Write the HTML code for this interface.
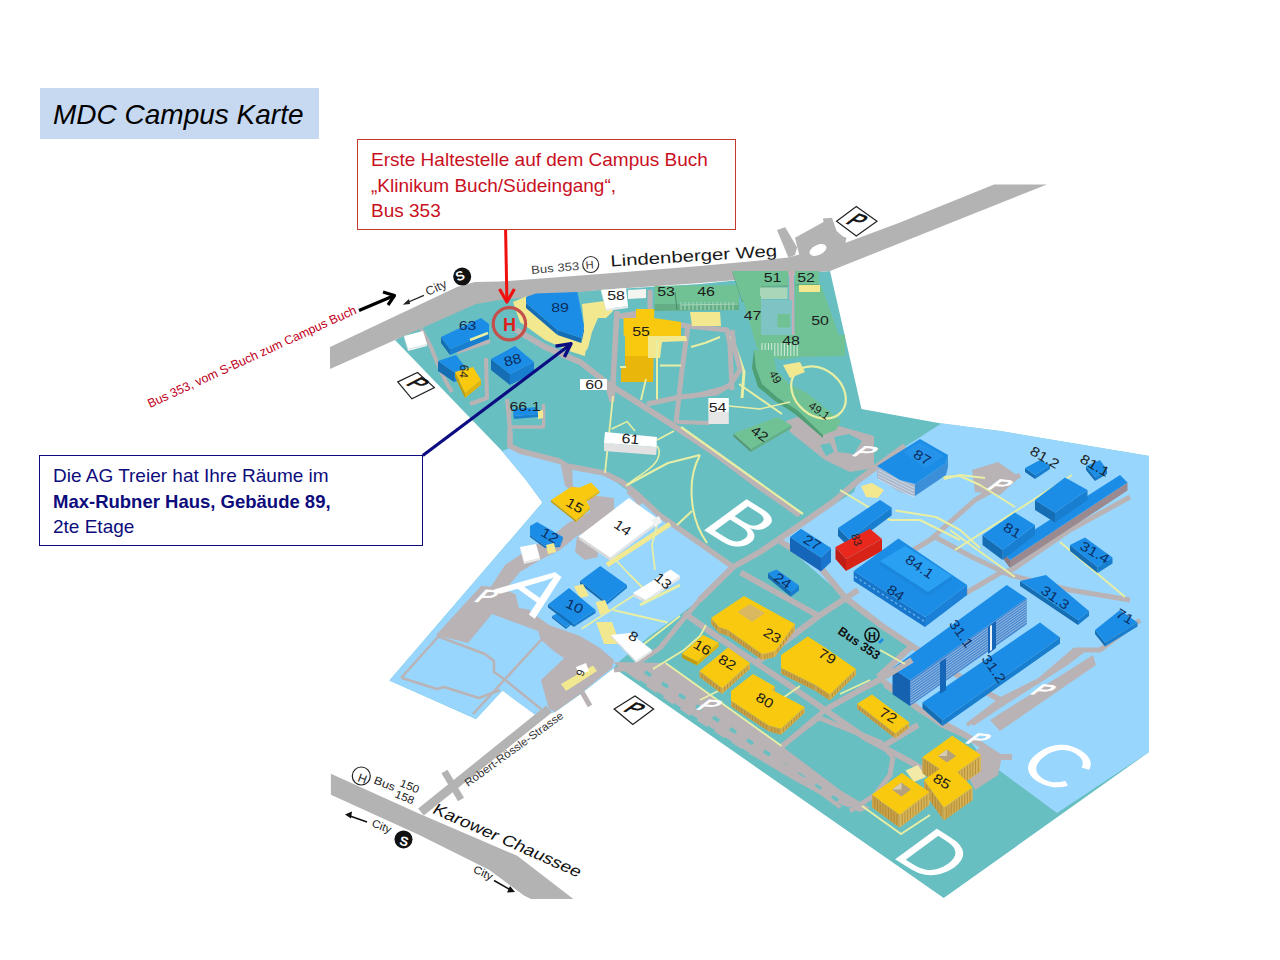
<!DOCTYPE html>
<html><head><meta charset="utf-8"><style>
html,body{margin:0;padding:0;background:#fff;}
body{width:1280px;height:960px;position:relative;overflow:hidden;font-family:"Liberation Sans",sans-serif;}
svg{position:absolute;left:0;top:0;}
svg text{font-family:"Liberation Sans",sans-serif;}
.title{position:absolute;left:40px;top:88px;width:279px;height:51px;background:#c6d9f1;}
.title span{position:absolute;left:13px;top:11px;font-style:italic;font-size:28px;color:#000;white-space:nowrap;}
.rbox{position:absolute;left:357px;top:139px;width:379px;height:91px;border:1.3px solid #c0392b;box-sizing:border-box;background:#fff;}
.rbox div{position:absolute;left:13px;font-size:19px;color:#c8101e;white-space:nowrap;}
.bbox{position:absolute;left:39px;top:455px;width:384px;height:91px;border:1.3px solid #0c0c7c;box-sizing:border-box;background:#fff;}
.bbox div{position:absolute;left:13px;font-size:19px;color:#0c0c7c;white-space:nowrap;}
</style></head><body>
<svg width="1280" height="960" viewBox="0 0 1280 960">
<polygon points="395.0,340.0 476.0,301.0 500.0,296.0 700.0,284.0 830.0,271.0 861.5,409.0 944.0,424.0 1000.0,431.0 1149.0,456.0 1149.0,752.0 943.7,898.0 614.0,668.0 580.6,694.0 555.0,712.0 537.0,716.0 502.5,690.6 476.0,719.0 389.4,680.6 542.5,502.5 526.0,480.0 502.0,451.0" fill="#68bfc1" />
<polygon points="502.0,451.0 510.0,448.0 520.0,451.0 559.0,461.0 567.0,466.0 604.0,473.0 628.0,491.0 661.0,515.0 700.0,543.0 733.0,567.0 699.0,600.0 681.0,614.0 651.0,635.0 617.5,663.0 614.0,668.0 580.6,694.0 555.0,712.0 537.0,716.0 502.5,690.6 476.0,719.0 389.4,680.6 542.5,502.5 526.0,480.0" fill="#98d6fd" />
<polygon points="941.7,423.3 903.0,448.0 860.0,476.0 853.8,492.0 801.0,525.0 780.6,541.0 845.6,598.0 882.0,626.0 912.0,646.0 878.0,677.0 920.0,710.0 965.0,735.0 985.0,760.0 996.0,768.0 1057.0,813.0 1149.0,752.0 1149.0,456.0 1000.0,431.0" fill="#98d6fd" />
<polygon points="330.0,347.0 457.0,287.0 475.0,282.0 500.0,281.5 600.0,274.0 700.0,266.0 760.0,260.6 788.0,257.4 845.0,243.0 900.0,222.4 994.0,184.5 1047.0,184.5 830.0,271.0 760.0,278.0 700.0,283.0 600.0,290.0 500.0,300.0 476.0,304.0 330.0,369.0" fill="#b3b3b3" />
<polygon points="777.0,230.0 785.2,227.3 797.2,247.5 795.0,255.0 788.4,257.4" fill="#b3b3b3" />
<polygon points="795.0,237.7 823.5,222.0 823.0,218.5 832.0,217.8 836.6,231.0 843.0,236.6 846.4,237.7 845.0,245.0 800.0,258.0" fill="#b3b3b3" />
<ellipse cx="818" cy="250" rx="9" ry="5" transform="rotate(-25 818 250)" fill="#ffffff"/>
<polygon points="836.6,221.3 856.3,206.5 877.0,221.3 856.3,236.0" fill="#ffffff" stroke="#222" stroke-width="1.2"/>
<text x="0" y="0" font-size="100" fill="#111" stroke="#111" stroke-width="4" transform="matrix(0.19,0.065,-0.184,0.144,844.7,222.9)">P</text>
<polygon points="330.9,773.7 418.8,813.6 517.2,855.8 573.4,899.0 531.0,899.0 524.0,895.6 489.0,869.8 418.8,834.7 330.9,794.8" fill="#b3b3b3" />
<polyline points="421.0,812.0 549.0,709.0" fill="none" stroke="#b3b3b3" stroke-width="9" stroke-linejoin="round" stroke-linecap="butt" />
<polyline points="444.5,771.4 461.0,799.5" fill="none" stroke="#b3b3b3" stroke-width="7" stroke-linejoin="round" stroke-linecap="butt" />
<polygon points="397.8,381.9 417.5,372.5 434.4,387.5 411.9,398.8" fill="#ffffff" stroke="#222" stroke-width="1.2"/>
<text x="0" y="0" font-size="100" fill="#111" stroke="#111" stroke-width="4" transform="matrix(0.174,0.087,-0.211,0.109,405.3,384.3)">P</text>
<polyline points="421.0,329.0 430.0,345.0 437.0,362.0 445.0,380.0 452.0,392.0" fill="none" stroke="#b9b3b6" stroke-width="4" stroke-linejoin="round" stroke-linecap="butt" />
<polyline points="457.0,352.0 490.0,341.0" fill="none" stroke="#b9b3b6" stroke-width="4" stroke-linejoin="round" stroke-linecap="butt" />
<polyline points="486.0,358.0 487.0,398.0 470.0,404.0" fill="none" stroke="#b9b3b6" stroke-width="4" stroke-linejoin="round" stroke-linecap="butt" />
<polyline points="516.0,330.0 545.0,347.0 580.0,362.0 607.0,383.0 674.0,426.0 716.0,454.0 760.0,487.0 800.0,515.0" fill="none" stroke="#b9b3b6" stroke-width="6" stroke-linejoin="round" stroke-linecap="butt" />
<polyline points="509.5,408.0 509.5,446.0" fill="none" stroke="#b9b3b6" stroke-width="3.5" stroke-linejoin="round" stroke-linecap="butt" />
<polyline points="543.5,404.0 543.5,428.0" fill="none" stroke="#b9b3b6" stroke-width="3.5" stroke-linejoin="round" stroke-linecap="butt" />
<polyline points="511.0,427.0 543.5,427.0" fill="none" stroke="#b9b3b6" stroke-width="3.5" stroke-linejoin="round" stroke-linecap="butt" />
<polygon points="538.0,411.0 543.0,410.0 543.0,418.0 538.0,419.0" fill="#f2e890" />
<polygon points="513.0,302.0 527.0,296.0 528.0,306.0 556.0,333.0 582.0,342.0 586.0,345.0 585.0,356.0 572.0,352.0 545.0,340.0 520.0,322.0" fill="#f2e890" />
<polygon points="582.0,304.0 612.0,300.0 613.0,311.0 606.0,318.0 598.0,318.0 592.0,332.0 588.0,348.0 582.0,356.0 580.0,346.0 584.0,325.0" fill="#f2e890" />
<polygon points="427.0,344.0 408.0,349.0 408.0,351.0 427.0,346.0" fill="#eeeeee" />
<polygon points="408.0,349.0 404.0,336.0 404.0,338.0 408.0,351.0" fill="#dddddd" />
<polygon points="404.0,336.0 423.0,331.0 427.0,344.0 408.0,349.0" fill="#ffffff" />
<polygon points="489.0,333.0 450.0,349.0 450.0,355.0 489.0,339.0" fill="#187ecf" />
<polygon points="450.0,349.0 441.0,337.0 441.0,343.0 450.0,355.0" fill="#156db3" />
<polygon points="441.0,337.0 481.0,318.0 489.0,324.0 489.0,333.0 450.0,349.0" fill="#1b8de6" />
<polyline points="470.0,340.0 488.0,333.0" fill="none" stroke="#e8efa4" stroke-width="2.5" stroke-linejoin="round" stroke-linecap="butt" />
<polygon points="466.0,368.0 454.0,372.0 454.0,382.0 466.0,378.0" fill="#187ecf" />
<polygon points="454.0,372.0 438.0,361.0 438.0,371.0 454.0,382.0" fill="#156db3" />
<polygon points="438.0,361.0 456.0,355.0 466.0,368.0 454.0,372.0" fill="#1b8de6" />
<polygon points="481.0,380.0 465.0,393.0 465.0,398.0 481.0,385.0" fill="#e0b40d" />
<polygon points="465.0,393.0 455.0,372.0 455.0,377.0 465.0,398.0" fill="#c29c0b" />
<polygon points="455.0,372.0 473.0,367.0 481.0,380.0 465.0,393.0" fill="#f9c90f" />
<polygon points="534.0,362.0 510.0,374.0 510.0,385.0 534.0,373.0" fill="#187ecf" />
<polygon points="510.0,374.0 491.0,359.0 491.0,370.0 510.0,385.0" fill="#156db3" />
<polygon points="491.0,359.0 515.0,346.0 534.0,362.0 510.0,374.0" fill="#1b8de6" />
<polygon points="584.0,326.0 581.4,338.0 581.4,343.0 584.0,331.0" fill="#187ecf" />
<polygon points="581.4,338.0 557.5,330.0 557.5,335.0 581.4,343.0" fill="#156db3" />
<polygon points="557.5,330.0 526.0,303.0 526.0,308.0 557.5,335.0" fill="#156db3" />
<polygon points="526.0,297.0 536.0,293.5 577.4,292.0 584.0,326.0 581.4,338.0 557.5,330.0 526.0,303.0" fill="#1b8de6" />
<polygon points="538.0,414.0 514.0,416.0 514.0,419.0 538.0,417.0" fill="#187ecf" />
<polygon points="514.0,416.0 513.0,409.0 513.0,412.0 514.0,419.0" fill="#156db3" />
<polygon points="513.0,409.0 537.0,407.0 538.0,414.0 514.0,416.0" fill="#1b8de6" />
<polyline points="617.0,311.0 612.0,400.0 607.0,383.0" fill="none" stroke="#b9b3b6" stroke-width="5.5" stroke-linejoin="round" stroke-linecap="butt" />
<polyline points="688.0,326.0 682.0,370.0 676.0,423.0" fill="none" stroke="#b9b3b6" stroke-width="5" stroke-linejoin="round" stroke-linecap="butt" />
<polyline points="650.0,290.0 650.0,311.0 620.0,316.0 688.0,326.0 727.0,330.0 730.0,345.0 732.0,390.0" fill="none" stroke="#b9b3b6" stroke-width="5" stroke-linejoin="round" stroke-linecap="butt" />
<polygon points="690.0,312.0 720.0,312.0 721.0,326.0 692.0,326.0" fill="#f2e890" />
<polygon points="628.0,306.0 606.0,309.0 606.0,311.0 628.0,308.0" fill="#e8e8e8" />
<polygon points="606.0,309.0 601.0,290.0 601.0,292.0 606.0,311.0" fill="#d8d8d8" />
<polygon points="601.0,290.0 626.0,288.0 628.0,306.0 606.0,309.0" fill="#ffffff" />
<polygon points="628.0,290.0 646.0,289.0 646.0,298.0 628.0,299.0" fill="#f4f4f0" />
<polygon points="636.0,309.0 654.5,309.0 654.0,318.0 681.0,322.0 681.0,336.0 654.0,336.0 653.0,382.0 621.0,382.0 621.0,369.0 625.0,368.0 625.0,336.0 623.6,335.0 623.6,318.0 636.0,318.0" fill="#f9c90f" />
<polygon points="625.0,356.0 653.0,356.0 653.0,382.0 621.0,382.0 621.0,369.0 625.0,368.0" fill="#e9b60c" />
<polygon points="648.0,336.0 686.0,336.0 687.0,341.0 662.0,342.0 660.0,358.0 648.0,358.0" fill="#f2e890" />
<polyline points="660.0,365.5 681.0,365.5" fill="none" stroke="#e8efa4" stroke-width="2" stroke-linejoin="round" stroke-linecap="butt" />
<polyline points="657.0,340.0 657.0,400.0" fill="none" stroke="#e8efa4" stroke-width="2" stroke-linejoin="round" stroke-linecap="butt" />
<polyline points="691.0,347.0 705.0,343.0 720.0,337.0" fill="none" stroke="#e8efa4" stroke-width="2" stroke-linejoin="round" stroke-linecap="butt" />
<polyline points="731.0,336.0 737.0,352.0 744.0,372.0 742.0,398.0" fill="none" stroke="#e8efa4" stroke-width="3" stroke-linejoin="round" stroke-linecap="butt" />
<polyline points="620.0,367.0 626.0,367.0" fill="none" stroke="#e8efa4" stroke-width="2" stroke-linejoin="round" stroke-linecap="butt" />
<polygon points="739.0,303.0 654.5,304.0 654.5,311.0 739.0,310.0" fill="#64ae86" />
<polygon points="654.5,286.0 739.0,285.0 739.0,303.0 654.5,304.0" fill="#70c295" />
<polyline points="681.0,302.0 681.0,310.0" fill="none" stroke="#a8d8bc" stroke-width="1" stroke-linejoin="round" stroke-linecap="butt" />
<polyline points="685.0,302.0 685.0,310.0" fill="none" stroke="#a8d8bc" stroke-width="1" stroke-linejoin="round" stroke-linecap="butt" />
<polyline points="689.0,302.0 689.0,310.0" fill="none" stroke="#a8d8bc" stroke-width="1" stroke-linejoin="round" stroke-linecap="butt" />
<polyline points="693.0,302.0 693.0,310.0" fill="none" stroke="#a8d8bc" stroke-width="1" stroke-linejoin="round" stroke-linecap="butt" />
<polyline points="697.0,302.0 697.0,310.0" fill="none" stroke="#a8d8bc" stroke-width="1" stroke-linejoin="round" stroke-linecap="butt" />
<polyline points="701.0,302.0 701.0,310.0" fill="none" stroke="#a8d8bc" stroke-width="1" stroke-linejoin="round" stroke-linecap="butt" />
<polyline points="705.0,302.0 705.0,310.0" fill="none" stroke="#a8d8bc" stroke-width="1" stroke-linejoin="round" stroke-linecap="butt" />
<polyline points="709.0,302.0 709.0,310.0" fill="none" stroke="#a8d8bc" stroke-width="1" stroke-linejoin="round" stroke-linecap="butt" />
<polyline points="713.0,302.0 713.0,310.0" fill="none" stroke="#a8d8bc" stroke-width="1" stroke-linejoin="round" stroke-linecap="butt" />
<polyline points="717.0,302.0 717.0,310.0" fill="none" stroke="#a8d8bc" stroke-width="1" stroke-linejoin="round" stroke-linecap="butt" />
<polyline points="721.0,302.0 721.0,310.0" fill="none" stroke="#a8d8bc" stroke-width="1" stroke-linejoin="round" stroke-linecap="butt" />
<polyline points="725.0,302.0 725.0,310.0" fill="none" stroke="#a8d8bc" stroke-width="1" stroke-linejoin="round" stroke-linecap="butt" />
<polyline points="729.0,302.0 729.0,310.0" fill="none" stroke="#a8d8bc" stroke-width="1" stroke-linejoin="round" stroke-linecap="butt" />
<polyline points="733.0,302.0 733.0,310.0" fill="none" stroke="#a8d8bc" stroke-width="1" stroke-linejoin="round" stroke-linecap="butt" />
<polyline points="681.0,305.0 738.0,304.0" fill="none" stroke="#a8d8bc" stroke-width="1" stroke-linejoin="round" stroke-linecap="butt" />
<polyline points="675.0,292.0 677.0,310.0" fill="none" stroke="#3f7f5f" stroke-width="0.8" stroke-linejoin="round" stroke-linecap="butt" />
<polyline points="647.0,404.0 680.0,397.0 716.0,393.0 730.0,385.0 740.0,370.0 734.0,345.0 732.0,330.0" fill="none" stroke="#b9b3b6" stroke-width="5" stroke-linejoin="round" stroke-linecap="butt" />
<polyline points="677.0,422.0 710.0,423.0" fill="none" stroke="#b9b3b6" stroke-width="4" stroke-linejoin="round" stroke-linecap="butt" />
<polyline points="690.0,397.0 727.0,387.0" fill="none" stroke="#b9b3b6" stroke-width="4" stroke-linejoin="round" stroke-linecap="butt" />
<polyline points="791.5,271.0 792.0,335.0" fill="none" stroke="#c2aeb4" stroke-width="5" stroke-linejoin="round" stroke-linecap="butt" />
<polyline points="510.0,430.0 510.0,446.0 520.0,451.0 559.0,461.0 567.0,466.0 604.0,473.0 622.0,482.0 638.0,495.0 660.0,515.6 700.0,543.6 733.0,567.0" fill="none" stroke="#b9b3b6" stroke-width="5.5" stroke-linejoin="round" stroke-linecap="butt" />
<polyline points="510.0,430.0 507.0,399.0" fill="none" stroke="#b9b3b6" stroke-width="4" stroke-linejoin="round" stroke-linecap="butt" />
<polygon points="786.0,421.0 800.0,416.0 832.0,424.0 874.0,436.0 874.0,468.0 850.0,472.0 825.0,460.0 790.0,432.0" fill="#b9b3b6" />
<polygon points="834.0,437.0 849.0,434.0 862.0,441.0 854.0,454.0 838.0,452.0" fill="#68bfc1" />
<polygon points="820.0,445.0 830.0,443.0 834.0,452.0 826.0,456.0" fill="#68bfc1" />
<polygon points="788.0,285.0 761.0,286.0 761.0,288.0 788.0,287.0" fill="#64ae86" />
<polygon points="761.0,300.0 742.0,300.0 742.0,302.0 761.0,302.0" fill="#64ae86" />
<polygon points="742.0,300.0 732.5,271.0 732.5,273.0 742.0,302.0" fill="#579774" />
<polygon points="732.5,271.0 788.0,271.0 788.0,285.0 761.0,286.0 761.0,300.0 742.0,300.0" fill="#70c295" />
<polygon points="760.0,287.5 787.5,287.5 787.5,299.0 760.0,299.0" fill="#a9d6b8" />
<polygon points="742.0,296.0 761.0,296.0 761.0,335.0 790.0,335.0 845.0,335.0 845.0,356.0 800.0,357.0 780.0,360.0 770.0,355.0 757.0,348.0" fill="#70c295" />
<polygon points="761.0,300.0 792.0,300.0 792.0,335.0 761.0,335.0" fill="#7fc3c4" />
<polygon points="777.5,314.0 790.0,314.0 790.0,327.5 777.5,327.5" fill="#70c295" />
<polygon points="795.0,285.0 821.0,285.0 845.0,352.0 795.0,352.0" fill="#70c295" />
<polygon points="818.8,284.0 795.0,284.0 795.0,286.0 818.8,286.0" fill="#64ae86" />
<polygon points="795.0,271.0 818.8,271.0 818.8,284.0 795.0,284.0" fill="#70c295" />
<polygon points="799.0,285.0 820.0,285.0 820.0,292.0 799.0,292.0" fill="#f2e890" />
<polyline points="762.0,343.0 762.0,356.0" fill="none" stroke="#d8ece0" stroke-width="1" stroke-linejoin="round" stroke-linecap="butt" />
<polyline points="765.2,343.0 765.2,356.0" fill="none" stroke="#d8ece0" stroke-width="1" stroke-linejoin="round" stroke-linecap="butt" />
<polyline points="768.4,343.0 768.4,356.0" fill="none" stroke="#d8ece0" stroke-width="1" stroke-linejoin="round" stroke-linecap="butt" />
<polyline points="771.6,343.0 771.6,356.0" fill="none" stroke="#d8ece0" stroke-width="1" stroke-linejoin="round" stroke-linecap="butt" />
<polyline points="774.8,343.0 774.8,356.0" fill="none" stroke="#d8ece0" stroke-width="1" stroke-linejoin="round" stroke-linecap="butt" />
<polyline points="778.0,343.0 778.0,356.0" fill="none" stroke="#d8ece0" stroke-width="1" stroke-linejoin="round" stroke-linecap="butt" />
<polyline points="781.2,343.0 781.2,356.0" fill="none" stroke="#d8ece0" stroke-width="1" stroke-linejoin="round" stroke-linecap="butt" />
<polyline points="784.4,343.0 784.4,356.0" fill="none" stroke="#d8ece0" stroke-width="1" stroke-linejoin="round" stroke-linecap="butt" />
<polyline points="787.6,343.0 787.6,356.0" fill="none" stroke="#d8ece0" stroke-width="1" stroke-linejoin="round" stroke-linecap="butt" />
<polyline points="790.8,343.0 790.8,356.0" fill="none" stroke="#d8ece0" stroke-width="1" stroke-linejoin="round" stroke-linecap="butt" />
<polyline points="794.0,343.0 794.0,356.0" fill="none" stroke="#d8ece0" stroke-width="1" stroke-linejoin="round" stroke-linecap="butt" />
<polyline points="797.2,343.0 797.2,356.0" fill="none" stroke="#d8ece0" stroke-width="1" stroke-linejoin="round" stroke-linecap="butt" />
<polygon points="754.0,350.0 773.0,350.0 776.0,370.0 790.0,385.0 807.0,393.0 841.0,421.0 836.0,430.0 823.0,435.0 797.0,410.0 778.0,398.0 762.0,384.0 756.0,368.0" fill="#70c295" />
<polygon points="754.0,350.0 756.0,368.0 762.0,384.0 778.0,398.0 797.0,410.0 823.0,435.0 823.0,438.0 795.0,414.0 775.0,401.0 758.0,387.0 752.0,368.0" fill="#4f9f74" />
<polygon points="791.4,425.3 750.8,449.0 750.8,452.0 791.4,428.3" fill="#64ae86" />
<polygon points="750.8,449.0 733.5,433.4 733.5,436.4 750.8,452.0" fill="#579774" />
<polygon points="733.5,433.4 777.2,417.2 791.4,425.3 750.8,449.0" fill="#70c295" />
<ellipse cx="818.5" cy="392.5" rx="30" ry="23" transform="rotate(40 818.5 392.5)" fill="none" stroke="#e8efa4" stroke-width="2.2"/>
<polygon points="783.0,365.0 800.0,362.0 805.0,372.0 790.0,378.0" fill="#f2e890" />
<polyline points="613.0,396.0 605.0,473.0" fill="none" stroke="#e8efa4" stroke-width="1.8" stroke-linejoin="round" stroke-linecap="butt" />
<polyline points="641.0,400.0 646.0,379.0" fill="none" stroke="#e8efa4" stroke-width="1.8" stroke-linejoin="round" stroke-linecap="butt" />
<polyline points="739.0,384.0 782.0,414.0" fill="none" stroke="#e8efa4" stroke-width="2" stroke-linejoin="round" stroke-linecap="butt" />
<polyline points="611.6,429.0 627.0,421.6 635.0,431.0" fill="none" stroke="#e8efa4" stroke-width="1.5" stroke-linejoin="round" stroke-linecap="butt" />
<polyline points="657.0,440.0 674.0,431.0" fill="none" stroke="#e8efa4" stroke-width="1.5" stroke-linejoin="round" stroke-linecap="butt" />
<path d="M657,446 C662,452 658,462 650,468 C642,475 632,480 626,486" fill="none" stroke="#e8efa4" stroke-width="1.6"/>
<polyline points="728.8,406.0 760.0,409.0 790.0,402.0" fill="none" stroke="#e8efa4" stroke-width="1.5" stroke-linejoin="round" stroke-linecap="butt" />
<polygon points="580.0,379.0 607.0,379.0 607.0,390.0 580.0,390.0" fill="#ffffff" />
<polygon points="657.0,437.0 656.0,447.0 656.0,455.0 657.0,445.0" fill="#ebebeb" />
<polygon points="656.0,447.0 604.0,443.0 604.0,451.0 656.0,455.0" fill="#e2e2e2" />
<polygon points="605.0,432.0 657.0,437.0 656.0,447.0 604.0,443.0" fill="#ffffff" />
<polygon points="728.8,412.0 708.4,412.0 708.4,424.0 728.8,424.0" fill="#e6e6e6" />
<polygon points="708.4,398.0 728.8,398.0 728.8,412.0 708.4,412.0" fill="#ffffff" />
<polygon points="436.0,635.0 481.0,586.0 498.0,587.0 515.0,594.0 531.0,612.0 549.0,625.0 580.0,636.0 600.0,648.0 614.0,660.0 612.0,668.0 590.0,672.0 570.0,662.0 555.0,652.0 541.0,640.0 538.0,631.0 492.0,614.0 468.0,643.0" fill="#b9b3b6" />
<polygon points="516.0,596.0 528.0,598.0 532.0,610.0 519.0,608.0" fill="#98d6fd" />
<polyline points="437.0,636.0 485.0,654.0 494.0,661.0 494.0,672.0 504.0,679.0 541.0,709.0" fill="none" stroke="#b9b3b6" stroke-width="2.5" stroke-linejoin="round" stroke-linecap="butt" />
<polyline points="402.0,678.0 437.0,689.0 444.0,687.0 479.0,698.0 500.0,690.0" fill="none" stroke="#b9b3b6" stroke-width="2.5" stroke-linejoin="round" stroke-linecap="butt" />
<polyline points="473.0,714.0 541.0,640.0 552.0,632.0" fill="none" stroke="#b9b3b6" stroke-width="2.5" stroke-linejoin="round" stroke-linecap="butt" />
<polyline points="401.0,678.0 438.0,637.0" fill="none" stroke="#b9b3b6" stroke-width="2.5" stroke-linejoin="round" stroke-linecap="butt" />
<polygon points="541.0,680.0 576.0,647.0 590.0,652.0 612.0,668.0 580.0,694.0 555.0,712.0 549.0,709.0 545.0,695.0" fill="#b9b3b6" />
<polygon points="561.0,684.0 593.0,665.5 597.0,671.0 566.0,691.0" fill="#f2e890" />
<polygon points="576.0,667.0 586.0,663.0 589.0,671.0 579.0,675.0" fill="#ffffff" />
<polyline points="582.0,692.0 590.0,706.0" fill="none" stroke="#b9b3b6" stroke-width="5" stroke-linejoin="round" stroke-linecap="butt" />
<polygon points="561.0,466.0 572.0,466.0 573.0,486.0 590.0,495.0 614.0,498.0 614.0,520.0 595.0,528.0 577.0,536.0 560.0,550.0 540.0,560.0 520.0,572.0 505.0,590.0 490.0,588.0 505.0,565.0 530.0,548.0 552.0,536.0 568.0,523.0 590.0,512.0 588.0,500.0 565.0,486.0" fill="#b9b3b6" />
<polyline points="614.0,520.0 640.0,502.0 628.0,491.0" fill="none" stroke="#b9b3b6" stroke-width="5" stroke-linejoin="round" stroke-linecap="butt" />
<polygon points="577.0,537.0 597.0,537.0 598.0,557.0 585.0,560.0 575.0,552.0" fill="#b9b3b6" />
<polyline points="607.0,565.0 670.0,524.0" fill="none" stroke="#f2e890" stroke-width="5" stroke-linejoin="round" stroke-linecap="butt" />
<polyline points="657.0,525.0 652.0,545.0 655.0,570.0" fill="none" stroke="#e8efa4" stroke-width="1.8" stroke-linejoin="round" stroke-linecap="butt" />
<polyline points="581.6,628.8 636.0,594.0" fill="none" stroke="#e8efa4" stroke-width="1.8" stroke-linejoin="round" stroke-linecap="butt" />
<polyline points="613.0,610.0 667.5,622.5" fill="none" stroke="#e8efa4" stroke-width="1.8" stroke-linejoin="round" stroke-linecap="butt" />
<polyline points="644.0,644.0 680.0,616.0" fill="none" stroke="#e8efa4" stroke-width="1.8" stroke-linejoin="round" stroke-linecap="butt" />
<polyline points="609.0,553.0 630.0,575.0 645.0,590.0" fill="none" stroke="#e8efa4" stroke-width="1.8" stroke-linejoin="round" stroke-linecap="butt" />
<polyline points="733.0,567.0 699.6,600.0 681.0,622.0 660.0,648.0 630.0,668.0 614.0,670.0" fill="none" stroke="#b9b3b6" stroke-width="5" stroke-linejoin="round" stroke-linecap="butt" />
<polygon points="659.4,520.0 610.0,557.5 610.0,560.5 659.4,523.0" fill="#e4e4e4" />
<polygon points="610.0,557.5 578.8,536.2 578.8,539.2 610.0,560.5" fill="#d9d9d9" />
<polygon points="578.8,536.2 628.8,498.0 659.4,520.0 610.0,557.5" fill="#ffffff" />
<polygon points="651.0,520.0 659.0,516.0 662.0,522.0 655.0,527.0" fill="#f2f2f2" />
<polygon points="599.4,491.0 586.0,500.0 586.0,502.0 599.4,493.0" fill="#e0b40d" />
<polygon points="590.0,507.5 576.0,520.0 576.0,522.0 590.0,509.5" fill="#e0b40d" />
<polygon points="576.0,520.0 551.0,500.0 551.0,502.0 576.0,522.0" fill="#c29c0b" />
<polygon points="551.0,500.0 571.0,487.0 580.0,487.5 591.0,482.5 599.4,491.0 586.0,500.0 590.0,507.5 576.0,520.0" fill="#f9c90f" />
<polygon points="563.0,537.0 560.0,545.0 560.0,547.0 563.0,539.0" fill="#187ecf" />
<polygon points="560.0,545.0 545.0,546.0 545.0,548.0 560.0,547.0" fill="#187ecf" />
<polygon points="545.0,546.0 530.0,535.0 530.0,537.0 545.0,548.0" fill="#156db3" />
<polygon points="530.0,526.0 537.0,522.0 563.0,537.0 560.0,545.0 545.0,546.0 530.0,535.0" fill="#1b8de6" />
<polygon points="546.0,545.0 554.0,543.0 556.0,552.0 548.0,554.0" fill="#f2e890" />
<polygon points="540.0,558.0 524.0,562.0 524.0,564.0 540.0,560.0" fill="#e8e8e8" />
<polygon points="524.0,562.0 520.0,547.0 520.0,549.0 524.0,564.0" fill="#dddddd" />
<polygon points="520.0,547.0 536.0,544.0 540.0,558.0 524.0,562.0" fill="#ffffff" />
<polygon points="627.0,585.0 606.6,602.0 606.6,605.0 627.0,588.0" fill="#187ecf" />
<polygon points="606.6,602.0 580.0,581.0 580.0,584.0 606.6,605.0" fill="#156db3" />
<polygon points="580.0,581.0 600.3,566.0 627.0,585.0 606.6,602.0" fill="#1b8de6" />
<polygon points="574.0,586.5 583.0,584.0 589.0,596.0 580.0,598.0" fill="#f2e890" />
<polygon points="595.6,602.0 605.0,600.0 610.0,612.0 600.0,615.0" fill="#f2e890" />
<polygon points="574.0,620.0 566.0,627.0 566.0,629.0 574.0,622.0" fill="#187ecf" />
<polygon points="566.0,627.0 552.0,616.0 552.0,618.0 566.0,629.0" fill="#156db3" />
<polygon points="552.0,616.0 560.0,612.0 574.0,620.0 566.0,627.0" fill="#1b8de6" />
<polygon points="595.6,610.0 573.8,624.0 573.8,627.0 595.6,613.0" fill="#187ecf" />
<polygon points="573.8,624.0 548.0,604.5 548.0,607.5 573.8,627.0" fill="#156db3" />
<polygon points="548.0,604.5 569.0,588.0 595.6,610.0 573.8,624.0" fill="#1b8de6" />
<polygon points="596.0,622.0 612.0,622.0 620.0,644.0 604.0,644.0" fill="#f2e890" />
<polygon points="652.0,650.0 636.0,661.0 636.0,663.0 652.0,652.0" fill="#e8e8e8" />
<polygon points="636.0,661.0 611.0,635.0 611.0,637.0 636.0,663.0" fill="#dddddd" />
<polygon points="611.0,635.0 630.0,633.0 652.0,650.0 636.0,661.0" fill="#ffffff" />
<polygon points="680.0,576.0 645.6,600.0 645.6,603.0 680.0,579.0" fill="#e8e8e8" />
<polygon points="645.6,600.0 633.0,593.0 633.0,596.0 645.6,603.0" fill="#dddddd" />
<polygon points="633.0,593.0 670.6,569.4 680.0,576.0 645.6,600.0" fill="#ffffff" />
<polyline points="640.0,605.0 680.0,585.0" fill="none" stroke="#e8efa4" stroke-width="3" stroke-linejoin="round" stroke-linecap="butt" />
<text x="0" y="0" font-size="100" fill="#ffffff" transform="matrix(0.613,0.439,-0.635,0.43,493.9,589.6)">A</text>
<polyline points="699.6,600.0 733.0,567.0 760.0,552.0 800.0,525.0 833.0,502.0 860.0,479.0 905.0,446.0" fill="none" stroke="#b9b3b6" stroke-width="6" stroke-linejoin="round" stroke-linecap="butt" />
<polyline points="627.0,485.0 668.0,463.0 700.0,455.0" fill="none" stroke="#e8efa4" stroke-width="2" stroke-linejoin="round" stroke-linecap="butt" />
<path d="M700,455 C694,466 690,480 692,500 C693,515 698,530 707,543" fill="none" stroke="#e8efa4" stroke-width="2"/>
<polyline points="692.0,511.0 677.0,525.0" fill="none" stroke="#e8efa4" stroke-width="2" stroke-linejoin="round" stroke-linecap="butt" />
<polyline points="681.0,427.0 803.0,514.0" fill="none" stroke="#e8efa4" stroke-width="2.2" stroke-linejoin="round" stroke-linecap="butt" />
<text x="0" y="0" font-size="100" fill="#ffffff" transform="matrix(0.64,0.40,-0.615,0.451,699,527)">B</text>
<polyline points="780.0,541.0 820.0,567.0 845.6,598.0 882.0,626.0 912.0,646.0 965.0,680.0 1000.0,700.0" fill="none" stroke="#b9b3b6" stroke-width="6" stroke-linejoin="round" stroke-linecap="butt" />
<polyline points="912.0,646.0 878.0,677.0" fill="none" stroke="#b9b3b6" stroke-width="6" stroke-linejoin="round" stroke-linecap="butt" />
<polyline points="878.0,677.0 920.0,710.0 965.0,735.0 1000.0,757.0 1012.0,757.0" fill="none" stroke="#b9b3b6" stroke-width="6" stroke-linejoin="round" stroke-linecap="butt" />
<polyline points="930.0,540.0 975.0,500.0 1020.0,475.0" fill="none" stroke="#b9b3b6" stroke-width="5" stroke-linejoin="round" stroke-linecap="butt" />
<polyline points="1012.0,570.0 1070.0,530.0 1130.0,497.0" fill="none" stroke="#b9b3b6" stroke-width="5" stroke-linejoin="round" stroke-linecap="butt" />
<polyline points="935.0,537.0 970.0,556.0 1010.0,575.0 1070.0,590.0 1130.0,600.0" fill="none" stroke="#b9b3b6" stroke-width="5" stroke-linejoin="round" stroke-linecap="butt" />
<polyline points="897.0,560.0 935.0,537.0" fill="none" stroke="#b9b3b6" stroke-width="5" stroke-linejoin="round" stroke-linecap="butt" />
<polyline points="966.0,593.0 1000.0,573.0 1012.0,570.0" fill="none" stroke="#b9b3b6" stroke-width="5" stroke-linejoin="round" stroke-linecap="butt" />
<polyline points="1000.0,700.0 1040.0,680.0 1075.0,650.0 1100.0,650.0 1140.0,620.0" fill="none" stroke="#b9b3b6" stroke-width="5" stroke-linejoin="round" stroke-linecap="butt" />
<polyline points="965.0,680.0 1000.0,655.0 1040.0,630.0 1060.0,640.0" fill="none" stroke="#b9b3b6" stroke-width="5" stroke-linejoin="round" stroke-linecap="butt" />
<polygon points="972.0,470.0 998.0,462.0 1020.0,477.0 1000.0,495.0 975.0,492.0" fill="#b9b3b6" />
<polygon points="990.0,720.0 1093.0,655.0 1096.0,665.0 1000.0,731.0" fill="#b9b3b6" />
<polyline points="972.0,724.0 1002.0,704.0 1065.0,664.0 1082.0,651.0" fill="none" stroke="#b9b3b6" stroke-width="5" stroke-linejoin="round" stroke-linecap="butt" />
<polyline points="885.0,685.0 942.0,725.0 975.0,740.0 1000.0,757.0" fill="none" stroke="#b9b3b6" stroke-width="5" stroke-linejoin="round" stroke-linecap="butt" />
<polyline points="967.0,725.0 1000.0,700.0" fill="none" stroke="#b9b3b6" stroke-width="4" stroke-linejoin="round" stroke-linecap="butt" />
<polyline points="940.0,477.0 960.0,476.0 980.0,485.0 1015.0,507.0" fill="none" stroke="#e8efa4" stroke-width="2" stroke-linejoin="round" stroke-linecap="butt" />
<polyline points="955.0,550.0 1072.0,475.0" fill="none" stroke="#e8efa4" stroke-width="2" stroke-linejoin="round" stroke-linecap="butt" />
<polyline points="950.0,530.0 1015.0,577.0" fill="none" stroke="#e8efa4" stroke-width="2" stroke-linejoin="round" stroke-linecap="butt" />
<polyline points="1060.0,542.0 1125.0,597.0" fill="none" stroke="#e8efa4" stroke-width="2" stroke-linejoin="round" stroke-linecap="butt" />
<polyline points="840.0,490.0 890.0,520.0 920.0,520.0 960.0,540.0" fill="none" stroke="#e8efa4" stroke-width="2" stroke-linejoin="round" stroke-linecap="butt" />
<polyline points="900.0,575.0 935.0,600.0" fill="none" stroke="#e8efa4" stroke-width="2" stroke-linejoin="round" stroke-linecap="butt" />
<polygon points="861.0,486.0 872.0,483.0 884.0,490.0 878.0,498.0 866.0,497.0" fill="#f2e890" />
<polyline points="895.6,510.6 936.0,517.0 960.0,530.0 980.0,548.0" fill="none" stroke="#e8efa4" stroke-width="2" stroke-linejoin="round" stroke-linecap="butt" />
<polyline points="944.0,479.0 960.0,475.0 985.0,478.0" fill="none" stroke="#e8efa4" stroke-width="2" stroke-linejoin="round" stroke-linecap="butt" />
<polygon points="948.0,455.0 946.0,463.0 946.0,475.0 948.0,467.0" fill="#3b8fd9" />
<polygon points="946.0,463.0 915.0,484.0 915.0,496.0 946.0,475.0" fill="#3b8fd9" />
<polygon points="915.0,484.0 900.0,480.0 900.0,492.0 915.0,496.0" fill="#a8b8cc" />
<polygon points="900.0,480.0 877.0,466.0 877.0,478.0 900.0,492.0" fill="#a8b8cc" />
<polygon points="877.0,466.0 920.0,439.0 948.0,455.0 946.0,463.0 915.0,484.0 900.0,480.0" fill="#1b8de6" />
<polyline points="878.0,470.0 914.0,488.0" fill="none" stroke="#d8dee8" stroke-width="0.8" stroke-linejoin="round" stroke-linecap="butt" />
<polyline points="878.0,473.0 914.0,491.0" fill="none" stroke="#d8dee8" stroke-width="0.8" stroke-linejoin="round" stroke-linecap="butt" />
<polyline points="878.0,476.0 914.0,494.0" fill="none" stroke="#d8dee8" stroke-width="0.8" stroke-linejoin="round" stroke-linecap="butt" />
<polyline points="878.0,479.0 914.0,497.0" fill="none" stroke="#d8dee8" stroke-width="0.8" stroke-linejoin="round" stroke-linecap="butt" />
<polygon points="903.0,452.0 920.0,442.0 944.0,456.0 926.0,468.0" fill="#2593ea" />
<polygon points="891.7,507.5 849.0,539.0 849.0,547.0 891.7,515.5" fill="#187ecf" />
<polygon points="849.0,539.0 838.0,528.0 838.0,536.0 849.0,547.0" fill="#156db3" />
<polygon points="838.0,528.0 880.0,500.0 891.7,507.5 849.0,539.0" fill="#1b8de6" />
<polygon points="882.0,539.0 846.0,559.0 846.0,571.0 882.0,551.0" fill="#d82418" />
<polygon points="846.0,559.0 835.5,547.0 835.5,559.0 846.0,571.0" fill="#c01c14" />
<polygon points="835.5,547.0 870.0,528.8 882.0,539.0 846.0,559.0" fill="#e8281c" />
<polygon points="831.0,548.0 821.0,557.5 821.0,571.5 831.0,562.0" fill="#1a74cc" />
<polygon points="821.0,557.5 790.0,537.0 790.0,551.0 821.0,571.5" fill="#1565b8" />
<polygon points="790.0,537.0 801.0,528.8 831.0,548.0 821.0,557.5" fill="#1b8de6" />
<polygon points="799.0,585.6 790.8,591.7 790.8,596.7 799.0,590.6" fill="#187ecf" />
<polygon points="790.8,591.7 768.0,573.0 768.0,578.0 790.8,596.7" fill="#156db3" />
<polygon points="768.0,573.0 776.6,569.4 799.0,585.6 790.8,591.7" fill="#1b8de6" />
<polygon points="967.1,585.0 925.0,617.0 925.0,627.0 967.1,595.0" fill="#1a80d8" />
<polygon points="925.0,617.0 853.7,571.0 853.7,581.0 925.0,627.0" fill="#1676cc" />
<polygon points="853.7,571.0 898.4,538.6 967.1,585.0 925.0,617.0" fill="#1b8de6" />
<polygon points="854.9,575.9 857.1,577.3 857.1,578.8 854.9,577.4" fill="#6fb4ec" />
<polygon points="859.4,578.8 861.6,580.2 861.6,581.7 859.4,580.3" fill="#6fb4ec" />
<polygon points="863.8,581.7 866.0,583.1 866.0,584.6 863.8,583.2" fill="#6fb4ec" />
<polygon points="868.3,584.6 870.5,586.0 870.5,587.5 868.3,586.1" fill="#6fb4ec" />
<polygon points="872.8,587.4 875.0,588.8 875.0,590.3 872.8,588.9" fill="#6fb4ec" />
<polygon points="877.2,590.3 879.4,591.7 879.4,593.2 877.2,591.8" fill="#6fb4ec" />
<polygon points="881.7,593.2 883.9,594.6 883.9,596.1 881.7,594.7" fill="#6fb4ec" />
<polygon points="886.1,596.1 888.3,597.5 888.3,599.0 886.1,597.6" fill="#6fb4ec" />
<polygon points="890.6,598.9 892.8,600.3 892.8,601.8 890.6,600.4" fill="#6fb4ec" />
<polygon points="895.0,601.8 897.2,603.2 897.2,604.7 895.0,603.3" fill="#6fb4ec" />
<polygon points="899.5,604.7 901.7,606.1 901.7,607.6 899.5,606.2" fill="#6fb4ec" />
<polygon points="903.9,607.6 906.1,609.0 906.1,610.5 903.9,609.1" fill="#6fb4ec" />
<polygon points="908.4,610.4 910.6,611.8 910.6,613.3 908.4,611.9" fill="#6fb4ec" />
<polygon points="912.9,613.3 915.1,614.7 915.1,616.2 912.9,614.8" fill="#6fb4ec" />
<polygon points="917.3,616.2 919.5,617.6 919.5,619.1 917.3,617.7" fill="#6fb4ec" />
<polygon points="921.8,619.1 924.0,620.5 924.0,622.0 921.8,620.6" fill="#6fb4ec" />
<polygon points="952.0,576.0 928.0,592.0 928.0,596.0 952.0,580.0" fill="#1a86dc" />
<polygon points="928.0,592.0 880.0,561.0 880.0,565.0 928.0,596.0" fill="#1a86dc" />
<polygon points="880.0,561.0 905.0,546.0 952.0,576.0 928.0,592.0" fill="#29a0f2" />
<polygon points="1127.5,482.5 1010.0,560.0 1010.0,568.0 1127.5,490.5" fill="#9a8a90" />
<polygon points="1010.0,560.0 1002.5,550.0 1002.5,558.0 1010.0,568.0" fill="#8a7a80" />
<polygon points="1002.5,550.0 1120.0,475.0 1127.5,482.5 1010.0,560.0" fill="#1b8de6" />
<polygon points="1035.0,525.0 1002.5,550.0 1002.5,560.0 1035.0,535.0" fill="#187ecf" />
<polygon points="1002.5,550.0 982.5,535.0 982.5,545.0 1002.5,560.0" fill="#156db3" />
<polygon points="982.5,535.0 1015.0,512.5 1035.0,525.0 1002.5,550.0" fill="#1b8de6" />
<polygon points="1087.5,490.0 1055.0,512.5 1055.0,522.5 1087.5,500.0" fill="#187ecf" />
<polygon points="1055.0,512.5 1035.0,500.0 1035.0,510.0 1055.0,522.5" fill="#156db3" />
<polygon points="1035.0,500.0 1065.0,477.5 1087.5,490.0 1055.0,512.5" fill="#1b8de6" />
<polygon points="1050.0,465.0 1035.0,475.0 1035.0,479.0 1050.0,469.0" fill="#187ecf" />
<polygon points="1035.0,475.0 1025.0,468.0 1025.0,472.0 1035.0,479.0" fill="#156db3" />
<polygon points="1025.0,468.0 1040.0,460.0 1050.0,465.0 1035.0,475.0" fill="#1b8de6" />
<polygon points="1107.0,470.0 1095.0,477.0 1095.0,481.0 1107.0,474.0" fill="#187ecf" />
<polygon points="1095.0,477.0 1086.0,466.0 1086.0,470.0 1095.0,481.0" fill="#156db3" />
<polygon points="1086.0,466.0 1100.0,460.0 1107.0,470.0 1095.0,477.0" fill="#1b8de6" />
<polygon points="1112.5,557.5 1097.5,567.0 1097.5,573.0 1112.5,563.5" fill="#187ecf" />
<polygon points="1097.5,567.0 1070.0,545.0 1070.0,551.0 1097.5,573.0" fill="#156db3" />
<polygon points="1070.0,545.0 1085.0,537.5 1112.5,557.5 1097.5,567.0" fill="#1b8de6" />
<polygon points="1089.0,611.0 1078.0,620.0 1078.0,625.0 1089.0,616.0" fill="#187ecf" />
<polygon points="1078.0,620.0 1020.0,581.0 1020.0,586.0 1078.0,625.0" fill="#156db3" />
<polygon points="1020.0,581.0 1046.0,575.0 1089.0,611.0 1078.0,620.0" fill="#1b8de6" />
<polygon points="1137.5,622.5 1105.0,642.5 1105.0,646.5 1137.5,626.5" fill="#187ecf" />
<polygon points="1105.0,642.5 1095.0,630.0 1095.0,634.0 1105.0,646.5" fill="#156db3" />
<polygon points="1095.0,630.0 1120.0,610.0 1137.5,622.5 1105.0,642.5" fill="#1b8de6" />
<polygon points="1060.0,637.5 942.5,720.0 942.5,726.0 1060.0,643.5" fill="#187ecf" />
<polygon points="942.5,720.0 922.5,702.5 922.5,708.5 942.5,726.0" fill="#156db3" />
<polygon points="922.5,702.5 1040.0,622.5 1060.0,637.5 942.5,720.0" fill="#1b8de6" />
<polygon points="1026.7,598.3 910.0,680.0 910.0,706.0 1026.7,624.3" fill="#4a8ad0" />
<polygon points="910.0,680.0 892.5,668.3 892.5,694.3 910.0,706.0" fill="#1462b0" />
<polygon points="892.5,668.3 1006.7,585.0 1026.7,598.3 910.0,680.0" fill="#1b8de6" />
<polyline points="910.5,682.6 1026.5,600.9" fill="none" stroke="#b8cfea" stroke-width="0.7" stroke-linejoin="round" stroke-linecap="butt" />
<polyline points="910.5,685.2 1026.5,603.5" fill="none" stroke="#b8cfea" stroke-width="0.7" stroke-linejoin="round" stroke-linecap="butt" />
<polyline points="910.5,687.8 1026.5,606.1" fill="none" stroke="#b8cfea" stroke-width="0.7" stroke-linejoin="round" stroke-linecap="butt" />
<polyline points="910.5,690.4 1026.5,608.7" fill="none" stroke="#b8cfea" stroke-width="0.7" stroke-linejoin="round" stroke-linecap="butt" />
<polyline points="910.5,693.0 1026.5,611.3" fill="none" stroke="#b8cfea" stroke-width="0.7" stroke-linejoin="round" stroke-linecap="butt" />
<polyline points="910.5,695.6 1026.5,613.9" fill="none" stroke="#b8cfea" stroke-width="0.7" stroke-linejoin="round" stroke-linecap="butt" />
<polyline points="910.5,698.2 1026.5,616.5" fill="none" stroke="#b8cfea" stroke-width="0.7" stroke-linejoin="round" stroke-linecap="butt" />
<polyline points="910.5,700.8 1026.5,619.1" fill="none" stroke="#b8cfea" stroke-width="0.7" stroke-linejoin="round" stroke-linecap="butt" />
<polyline points="910.5,703.4 1026.5,621.7" fill="none" stroke="#b8cfea" stroke-width="0.7" stroke-linejoin="round" stroke-linecap="butt" />
<polygon points="940.0,662.0 946.0,658.0 946.0,690.0 940.0,694.0" fill="#1565b8" />
<polygon points="988.0,627.0 996.0,621.0 996.0,648.0 988.0,654.0" fill="#1565b8" />
<polygon points="990.0,626.0 992.0,625.0 992.0,650.0 990.0,651.0" fill="#e8f0f8" />
<polyline points="684.0,613.0 719.0,638.0 775.0,675.6 825.0,710.0 865.6,738.0 912.5,763.0 940.0,780.0" fill="none" stroke="#b9b3b6" stroke-width="6" stroke-linejoin="round" stroke-linecap="butt" />
<polyline points="740.6,572.5 818.8,616.0" fill="none" stroke="#b9b3b6" stroke-width="6" stroke-linejoin="round" stroke-linecap="butt" />
<polyline points="756.0,663.0 787.0,640.0 818.8,616.0 858.0,590.0" fill="none" stroke="#b9b3b6" stroke-width="6" stroke-linejoin="round" stroke-linecap="butt" />
<polyline points="825.0,710.0 860.0,690.0 881.0,679.0 912.0,660.0" fill="none" stroke="#b9b3b6" stroke-width="6" stroke-linejoin="round" stroke-linecap="butt" />
<polyline points="881.0,747.5 918.0,725.0" fill="none" stroke="#b9b3b6" stroke-width="6" stroke-linejoin="round" stroke-linecap="butt" />
<polyline points="781.0,747.5 825.0,710.0" fill="none" stroke="#b9b3b6" stroke-width="5" stroke-linejoin="round" stroke-linecap="butt" />
<polygon points="613.0,662.0 665.0,663.0 700.0,688.0 740.0,716.0 781.6,746.0 840.0,790.0 870.0,808.0 860.0,812.0 830.0,800.0 790.0,778.0 740.0,748.0 690.0,716.0 650.0,689.0 620.0,668.0" fill="#b9b3b6" />
<polygon points="640.0,680.2 647.0,684.7 645.0,688.2 638.0,683.7" fill="#68bfc1" />
<polygon points="646.0,670.2 652.0,674.2 650.0,677.2 644.0,673.2" fill="#68bfc1" />
<polygon points="657.0,691.6 664.0,696.1 662.0,699.6 655.0,695.1" fill="#68bfc1" />
<polygon points="663.0,681.6 669.0,685.6 667.0,688.6 661.0,684.6" fill="#68bfc1" />
<polygon points="674.0,702.9 681.0,707.4 679.0,710.9 672.0,706.4" fill="#68bfc1" />
<polygon points="680.0,692.9 686.0,696.9 684.0,699.9 678.0,695.9" fill="#68bfc1" />
<polygon points="691.0,714.3 698.0,718.8 696.0,722.3 689.0,717.8" fill="#68bfc1" />
<polygon points="697.0,704.3 703.0,708.3 701.0,711.3 695.0,707.3" fill="#68bfc1" />
<polygon points="708.0,725.6 715.0,730.1 713.0,733.6 706.0,729.1" fill="#68bfc1" />
<polygon points="714.0,715.6 720.0,719.6 718.0,722.6 712.0,718.6" fill="#68bfc1" />
<polygon points="725.0,736.9 732.0,741.4 730.0,744.9 723.0,740.4" fill="#68bfc1" />
<polygon points="731.0,726.9 737.0,730.9 735.0,733.9 729.0,729.9" fill="#68bfc1" />
<polygon points="742.0,748.3 749.0,752.8 747.0,756.3 740.0,751.8" fill="#68bfc1" />
<polygon points="748.0,738.3 754.0,742.3 752.0,745.3 746.0,741.3" fill="#68bfc1" />
<polygon points="759.0,759.6 766.0,764.1 764.0,767.6 757.0,763.1" fill="#68bfc1" />
<polygon points="765.0,749.6 771.0,753.6 769.0,756.6 763.0,752.6" fill="#68bfc1" />
<polygon points="776.0,771.0 783.0,775.5 781.0,779.0 774.0,774.5" fill="#68bfc1" />
<polygon points="782.0,761.0 788.0,765.0 786.0,768.0 780.0,764.0" fill="#68bfc1" />
<polygon points="793.0,782.3 800.0,786.8 798.0,790.3 791.0,785.8" fill="#68bfc1" />
<polygon points="799.0,772.3 805.0,776.3 803.0,779.3 797.0,775.3" fill="#68bfc1" />
<polygon points="810.0,793.6 817.0,798.1 815.0,801.6 808.0,797.1" fill="#68bfc1" />
<polygon points="816.0,783.6 822.0,787.6 820.0,790.6 814.0,786.6" fill="#68bfc1" />
<polygon points="827.0,805.0 834.0,809.5 832.0,813.0 825.0,808.5" fill="#68bfc1" />
<polygon points="833.0,795.0 839.0,799.0 837.0,802.0 831.0,798.0" fill="#68bfc1" />
<polygon points="844.0,816.3 851.0,820.8 849.0,824.3 842.0,819.8" fill="#68bfc1" />
<polygon points="850.0,806.3 856.0,810.3 854.0,813.3 848.0,809.3" fill="#68bfc1" />
<polyline points="781.6,746.0 818.8,717.8" fill="none" stroke="#b9b3b6" stroke-width="5" stroke-linejoin="round" stroke-linecap="butt" />
<polyline points="770.6,755.0 840.6,807.5" fill="none" stroke="#b9b3b6" stroke-width="4" stroke-linejoin="round" stroke-linecap="butt" />
<polyline points="818.8,717.8 880.0,742.0 893.0,757.0" fill="none" stroke="#b9b3b6" stroke-width="5" stroke-linejoin="round" stroke-linecap="butt" />
<polyline points="893.0,757.0 890.0,775.0 875.0,795.0 850.0,811.0" fill="none" stroke="#b9b3b6" stroke-width="5" stroke-linejoin="round" stroke-linecap="butt" />
<polygon points="960.0,760.0 985.0,745.0 1002.0,756.0 998.0,775.0 975.0,790.0" fill="#b9b3b6" />
<polyline points="665.6,663.0 781.6,746.0" fill="none" stroke="#e8efa4" stroke-width="1.8" stroke-linejoin="round" stroke-linecap="butt" />
<text x="0" y="0" font-size="100" fill="#ffffff" stroke="#ffffff" stroke-width="5" transform="matrix(0.27,0.027,-0.175,0.137,695.1,709.0)">P</text>
<polyline points="653.0,669.0 684.0,650.0 700.0,636.0 706.0,625.0" fill="none" stroke="#e8efa4" stroke-width="1.8" stroke-linejoin="round" stroke-linecap="butt" />
<polyline points="700.0,700.0 720.0,690.0 745.0,670.0" fill="none" stroke="#e8efa4" stroke-width="1.8" stroke-linejoin="round" stroke-linecap="butt" />
<polyline points="780.0,700.0 800.0,686.0" fill="none" stroke="#e8efa4" stroke-width="1.8" stroke-linejoin="round" stroke-linecap="butt" />
<polyline points="840.0,694.0 870.0,680.0" fill="none" stroke="#e8efa4" stroke-width="1.8" stroke-linejoin="round" stroke-linecap="butt" />
<polyline points="880.0,650.0 905.0,664.0" fill="none" stroke="#e8efa4" stroke-width="1.8" stroke-linejoin="round" stroke-linecap="butt" />
<polyline points="880.0,800.0 905.0,815.0 930.0,800.0" fill="none" stroke="#e8efa4" stroke-width="2" stroke-linejoin="round" stroke-linecap="butt" />
<polygon points="795.0,624.0 775.0,651.0 775.0,657.0 795.0,630.0" fill="#d8b04a" />
<line x1="792.1" y1="628.9" x2="792.1" y2="633.4" stroke="#a8822a" stroke-width="0.7"/>
<line x1="789.3" y1="632.7" x2="789.3" y2="637.2" stroke="#a8822a" stroke-width="0.7"/>
<line x1="786.4" y1="636.6" x2="786.4" y2="641.1" stroke="#a8822a" stroke-width="0.7"/>
<line x1="783.6" y1="640.4" x2="783.6" y2="644.9" stroke="#a8822a" stroke-width="0.7"/>
<line x1="780.7" y1="644.3" x2="780.7" y2="648.8" stroke="#a8822a" stroke-width="0.7"/>
<line x1="777.9" y1="648.1" x2="777.9" y2="652.6" stroke="#a8822a" stroke-width="0.7"/>
<polygon points="775.0,651.0 762.0,654.0 762.0,660.0 775.0,657.0" fill="#d8b04a" />
<line x1="772.4" y1="652.6" x2="772.4" y2="657.1" stroke="#a8822a" stroke-width="0.7"/>
<line x1="769.8" y1="653.2" x2="769.8" y2="657.7" stroke="#a8822a" stroke-width="0.7"/>
<line x1="767.2" y1="653.8" x2="767.2" y2="658.3" stroke="#a8822a" stroke-width="0.7"/>
<line x1="764.6" y1="654.4" x2="764.6" y2="658.9" stroke="#a8822a" stroke-width="0.7"/>
<polygon points="762.0,654.0 728.0,630.0 728.0,636.0 762.0,660.0" fill="#c9a24a" />
<line x1="759.4" y1="653.2" x2="759.4" y2="657.7" stroke="#a8822a" stroke-width="0.7"/>
<line x1="756.8" y1="651.3" x2="756.8" y2="655.8" stroke="#a8822a" stroke-width="0.7"/>
<line x1="754.2" y1="649.5" x2="754.2" y2="654.0" stroke="#a8822a" stroke-width="0.7"/>
<line x1="751.5" y1="647.6" x2="751.5" y2="652.1" stroke="#a8822a" stroke-width="0.7"/>
<line x1="748.9" y1="645.8" x2="748.9" y2="650.3" stroke="#a8822a" stroke-width="0.7"/>
<line x1="746.3" y1="643.9" x2="746.3" y2="648.4" stroke="#a8822a" stroke-width="0.7"/>
<line x1="743.7" y1="642.1" x2="743.7" y2="646.6" stroke="#a8822a" stroke-width="0.7"/>
<line x1="741.1" y1="640.2" x2="741.1" y2="644.7" stroke="#a8822a" stroke-width="0.7"/>
<line x1="738.5" y1="638.4" x2="738.5" y2="642.9" stroke="#a8822a" stroke-width="0.7"/>
<line x1="735.8" y1="636.5" x2="735.8" y2="641.0" stroke="#a8822a" stroke-width="0.7"/>
<line x1="733.2" y1="634.7" x2="733.2" y2="639.2" stroke="#a8822a" stroke-width="0.7"/>
<line x1="730.6" y1="632.8" x2="730.6" y2="637.3" stroke="#a8822a" stroke-width="0.7"/>
<polygon points="728.0,630.0 719.0,627.0 719.0,633.0 728.0,636.0" fill="#c9a24a" />
<line x1="725.0" y1="630.0" x2="725.0" y2="634.5" stroke="#a8822a" stroke-width="0.7"/>
<line x1="722.0" y1="629.0" x2="722.0" y2="633.5" stroke="#a8822a" stroke-width="0.7"/>
<polygon points="719.0,627.0 711.0,618.0 711.0,624.0 719.0,633.0" fill="#c9a24a" />
<line x1="716.3" y1="625.0" x2="716.3" y2="629.5" stroke="#a8822a" stroke-width="0.7"/>
<line x1="713.7" y1="622.0" x2="713.7" y2="626.5" stroke="#a8822a" stroke-width="0.7"/>
<polygon points="711.0,618.0 744.0,596.0 795.0,624.0 775.0,651.0 762.0,654.0 728.0,630.0 719.0,627.0" fill="#f9c90f" />
<polygon points="737.5,612.0 750.0,604.0 765.0,613.0 752.0,622.0" fill="#d9b860" />
<polygon points="718.8,642.8 697.0,661.6 697.0,665.6 718.8,646.8" fill="#e0b40d" />
<polygon points="697.0,661.6 682.0,653.8 682.0,657.8 697.0,665.6" fill="#c29c0b" />
<polygon points="682.0,653.8 703.0,635.0 718.8,642.8 697.0,661.6" fill="#f9c90f" />
<polygon points="750.0,663.0 722.0,688.0 722.0,694.0 750.0,669.0" fill="#d8b04a" />
<line x1="747.2" y1="666.5" x2="747.2" y2="671.0" stroke="#a8822a" stroke-width="0.7"/>
<line x1="744.4" y1="669.0" x2="744.4" y2="673.5" stroke="#a8822a" stroke-width="0.7"/>
<line x1="741.6" y1="671.5" x2="741.6" y2="676.0" stroke="#a8822a" stroke-width="0.7"/>
<line x1="738.8" y1="674.0" x2="738.8" y2="678.5" stroke="#a8822a" stroke-width="0.7"/>
<line x1="736.0" y1="676.5" x2="736.0" y2="681.0" stroke="#a8822a" stroke-width="0.7"/>
<line x1="733.2" y1="679.0" x2="733.2" y2="683.5" stroke="#a8822a" stroke-width="0.7"/>
<line x1="730.4" y1="681.5" x2="730.4" y2="686.0" stroke="#a8822a" stroke-width="0.7"/>
<line x1="727.6" y1="684.0" x2="727.6" y2="688.5" stroke="#a8822a" stroke-width="0.7"/>
<line x1="724.8" y1="686.5" x2="724.8" y2="691.0" stroke="#a8822a" stroke-width="0.7"/>
<polygon points="722.0,688.0 699.4,671.0 699.4,677.0 722.0,694.0" fill="#c9a24a" />
<line x1="719.2" y1="686.9" x2="719.2" y2="691.4" stroke="#a8822a" stroke-width="0.7"/>
<line x1="716.4" y1="684.8" x2="716.4" y2="689.2" stroke="#a8822a" stroke-width="0.7"/>
<line x1="713.5" y1="682.6" x2="713.5" y2="687.1" stroke="#a8822a" stroke-width="0.7"/>
<line x1="710.7" y1="680.5" x2="710.7" y2="685.0" stroke="#a8822a" stroke-width="0.7"/>
<line x1="707.9" y1="678.4" x2="707.9" y2="682.9" stroke="#a8822a" stroke-width="0.7"/>
<line x1="705.0" y1="676.2" x2="705.0" y2="680.8" stroke="#a8822a" stroke-width="0.7"/>
<line x1="702.2" y1="674.1" x2="702.2" y2="678.6" stroke="#a8822a" stroke-width="0.7"/>
<polygon points="699.4,671.0 728.0,647.5 750.0,663.0 722.0,688.0" fill="#f9c90f" />
<polygon points="775.0,686.6 772.0,690.0 772.0,696.0 775.0,692.6" fill="#d8b04a" />
<polygon points="804.7,707.0 781.0,728.8 781.0,734.8 804.7,713.0" fill="#d8b04a" />
<line x1="802.1" y1="710.4" x2="802.1" y2="714.9" stroke="#a8822a" stroke-width="0.7"/>
<line x1="799.4" y1="712.8" x2="799.4" y2="717.3" stroke="#a8822a" stroke-width="0.7"/>
<line x1="796.8" y1="715.2" x2="796.8" y2="719.8" stroke="#a8822a" stroke-width="0.7"/>
<line x1="794.2" y1="717.7" x2="794.2" y2="722.2" stroke="#a8822a" stroke-width="0.7"/>
<line x1="791.5" y1="720.1" x2="791.5" y2="724.6" stroke="#a8822a" stroke-width="0.7"/>
<line x1="788.9" y1="722.5" x2="788.9" y2="727.0" stroke="#a8822a" stroke-width="0.7"/>
<line x1="786.3" y1="724.9" x2="786.3" y2="729.4" stroke="#a8822a" stroke-width="0.7"/>
<line x1="783.6" y1="727.3" x2="783.6" y2="731.8" stroke="#a8822a" stroke-width="0.7"/>
<polygon points="781.0,728.8 768.8,725.6 768.8,731.6 781.0,734.8" fill="#c9a24a" />
<line x1="777.9" y1="729.0" x2="777.9" y2="733.5" stroke="#a8822a" stroke-width="0.7"/>
<line x1="774.9" y1="728.2" x2="774.9" y2="732.7" stroke="#a8822a" stroke-width="0.7"/>
<line x1="771.8" y1="727.4" x2="771.8" y2="731.9" stroke="#a8822a" stroke-width="0.7"/>
<polygon points="768.8,725.6 731.0,700.6 731.0,706.6 768.8,731.6" fill="#c9a24a" />
<line x1="766.1" y1="724.8" x2="766.1" y2="729.3" stroke="#a8822a" stroke-width="0.7"/>
<line x1="763.4" y1="723.0" x2="763.4" y2="727.5" stroke="#a8822a" stroke-width="0.7"/>
<line x1="760.7" y1="721.2" x2="760.7" y2="725.7" stroke="#a8822a" stroke-width="0.7"/>
<line x1="758.0" y1="719.5" x2="758.0" y2="724.0" stroke="#a8822a" stroke-width="0.7"/>
<line x1="755.3" y1="717.7" x2="755.3" y2="722.2" stroke="#a8822a" stroke-width="0.7"/>
<line x1="752.6" y1="715.9" x2="752.6" y2="720.4" stroke="#a8822a" stroke-width="0.7"/>
<line x1="749.9" y1="714.1" x2="749.9" y2="718.6" stroke="#a8822a" stroke-width="0.7"/>
<line x1="747.2" y1="712.3" x2="747.2" y2="716.8" stroke="#a8822a" stroke-width="0.7"/>
<line x1="744.5" y1="710.5" x2="744.5" y2="715.0" stroke="#a8822a" stroke-width="0.7"/>
<line x1="741.8" y1="708.7" x2="741.8" y2="713.2" stroke="#a8822a" stroke-width="0.7"/>
<line x1="739.1" y1="707.0" x2="739.1" y2="711.5" stroke="#a8822a" stroke-width="0.7"/>
<line x1="736.4" y1="705.2" x2="736.4" y2="709.7" stroke="#a8822a" stroke-width="0.7"/>
<line x1="733.7" y1="703.4" x2="733.7" y2="707.9" stroke="#a8822a" stroke-width="0.7"/>
<polygon points="731.0,691.0 753.0,674.0 775.0,686.6 772.0,690.0 804.7,707.0 781.0,728.8 768.8,725.6 731.0,700.6" fill="#f9c90f" />
<polygon points="856.0,669.0 829.7,694.4 829.7,700.4 856.0,675.0" fill="#d8b04a" />
<line x1="853.4" y1="672.5" x2="853.4" y2="677.0" stroke="#a8822a" stroke-width="0.7"/>
<line x1="850.7" y1="675.1" x2="850.7" y2="679.6" stroke="#a8822a" stroke-width="0.7"/>
<line x1="848.1" y1="677.6" x2="848.1" y2="682.1" stroke="#a8822a" stroke-width="0.7"/>
<line x1="845.5" y1="680.2" x2="845.5" y2="684.7" stroke="#a8822a" stroke-width="0.7"/>
<line x1="842.9" y1="682.7" x2="842.9" y2="687.2" stroke="#a8822a" stroke-width="0.7"/>
<line x1="840.2" y1="685.2" x2="840.2" y2="689.7" stroke="#a8822a" stroke-width="0.7"/>
<line x1="837.6" y1="687.8" x2="837.6" y2="692.3" stroke="#a8822a" stroke-width="0.7"/>
<line x1="835.0" y1="690.3" x2="835.0" y2="694.8" stroke="#a8822a" stroke-width="0.7"/>
<line x1="832.3" y1="692.9" x2="832.3" y2="697.4" stroke="#a8822a" stroke-width="0.7"/>
<polygon points="829.7,694.4 815.6,685.0 815.6,691.0 829.7,700.4" fill="#c9a24a" />
<line x1="826.9" y1="693.5" x2="826.9" y2="698.0" stroke="#a8822a" stroke-width="0.7"/>
<line x1="824.1" y1="691.6" x2="824.1" y2="696.1" stroke="#a8822a" stroke-width="0.7"/>
<line x1="821.2" y1="689.8" x2="821.2" y2="694.3" stroke="#a8822a" stroke-width="0.7"/>
<line x1="818.4" y1="687.9" x2="818.4" y2="692.4" stroke="#a8822a" stroke-width="0.7"/>
<polygon points="815.6,685.0 781.0,667.8 781.0,673.8 815.6,691.0" fill="#c9a24a" />
<line x1="812.9" y1="684.7" x2="812.9" y2="689.2" stroke="#a8822a" stroke-width="0.7"/>
<line x1="810.3" y1="683.4" x2="810.3" y2="687.9" stroke="#a8822a" stroke-width="0.7"/>
<line x1="807.6" y1="682.0" x2="807.6" y2="686.5" stroke="#a8822a" stroke-width="0.7"/>
<line x1="805.0" y1="680.7" x2="805.0" y2="685.2" stroke="#a8822a" stroke-width="0.7"/>
<line x1="802.3" y1="679.4" x2="802.3" y2="683.9" stroke="#a8822a" stroke-width="0.7"/>
<line x1="799.6" y1="678.1" x2="799.6" y2="682.6" stroke="#a8822a" stroke-width="0.7"/>
<line x1="797.0" y1="676.7" x2="797.0" y2="681.2" stroke="#a8822a" stroke-width="0.7"/>
<line x1="794.3" y1="675.4" x2="794.3" y2="679.9" stroke="#a8822a" stroke-width="0.7"/>
<line x1="791.6" y1="674.1" x2="791.6" y2="678.6" stroke="#a8822a" stroke-width="0.7"/>
<line x1="789.0" y1="672.8" x2="789.0" y2="677.3" stroke="#a8822a" stroke-width="0.7"/>
<line x1="786.3" y1="671.4" x2="786.3" y2="675.9" stroke="#a8822a" stroke-width="0.7"/>
<line x1="783.7" y1="670.1" x2="783.7" y2="674.6" stroke="#a8822a" stroke-width="0.7"/>
<polygon points="781.0,655.0 807.8,636.6 825.0,647.5 856.0,669.0 829.7,694.4 815.6,685.0 781.0,667.8" fill="#f9c90f" />
<polygon points="909.4,722.5 895.3,733.4 895.3,738.4 909.4,727.5" fill="#d8b04a" />
<line x1="906.6" y1="725.7" x2="906.6" y2="729.2" stroke="#a8822a" stroke-width="0.7"/>
<line x1="903.8" y1="727.9" x2="903.8" y2="731.4" stroke="#a8822a" stroke-width="0.7"/>
<line x1="900.9" y1="730.0" x2="900.9" y2="733.5" stroke="#a8822a" stroke-width="0.7"/>
<line x1="898.1" y1="732.2" x2="898.1" y2="735.7" stroke="#a8822a" stroke-width="0.7"/>
<polygon points="895.3,733.4 857.0,703.8 857.0,708.8 895.3,738.4" fill="#c9a24a" />
<line x1="892.6" y1="732.3" x2="892.6" y2="735.8" stroke="#a8822a" stroke-width="0.7"/>
<line x1="889.8" y1="730.2" x2="889.8" y2="733.7" stroke="#a8822a" stroke-width="0.7"/>
<line x1="887.1" y1="728.0" x2="887.1" y2="731.5" stroke="#a8822a" stroke-width="0.7"/>
<line x1="884.4" y1="725.9" x2="884.4" y2="729.4" stroke="#a8822a" stroke-width="0.7"/>
<line x1="881.6" y1="723.8" x2="881.6" y2="727.3" stroke="#a8822a" stroke-width="0.7"/>
<line x1="878.9" y1="721.7" x2="878.9" y2="725.2" stroke="#a8822a" stroke-width="0.7"/>
<line x1="876.1" y1="719.6" x2="876.1" y2="723.1" stroke="#a8822a" stroke-width="0.7"/>
<line x1="873.4" y1="717.5" x2="873.4" y2="721.0" stroke="#a8822a" stroke-width="0.7"/>
<line x1="870.7" y1="715.3" x2="870.7" y2="718.8" stroke="#a8822a" stroke-width="0.7"/>
<line x1="867.9" y1="713.2" x2="867.9" y2="716.7" stroke="#a8822a" stroke-width="0.7"/>
<line x1="865.2" y1="711.1" x2="865.2" y2="714.6" stroke="#a8822a" stroke-width="0.7"/>
<line x1="862.5" y1="709.0" x2="862.5" y2="712.5" stroke="#a8822a" stroke-width="0.7"/>
<line x1="859.7" y1="706.9" x2="859.7" y2="710.4" stroke="#a8822a" stroke-width="0.7"/>
<polygon points="857.0,703.8 872.0,694.4 909.4,722.5 895.3,733.4" fill="#f9c90f" />
<polyline points="862.0,806.0 901.0,834.0 930.0,815.0" fill="none" stroke="#e8efa4" stroke-width="2" stroke-linejoin="round" stroke-linecap="butt" />
<polygon points="905.5,770.5 918.0,765.0 926.0,777.0 914.0,782.0" fill="#f4eaa8" />
<polygon points="981.0,755.0 951.0,776.5 951.0,792.5 981.0,771.0" fill="#d8b45a" />
<line x1="978.3" y1="758.0" x2="978.3" y2="772.5" stroke="#a8822a" stroke-width="0.7"/>
<line x1="975.5" y1="759.9" x2="975.5" y2="774.4" stroke="#a8822a" stroke-width="0.7"/>
<line x1="972.8" y1="761.9" x2="972.8" y2="776.4" stroke="#a8822a" stroke-width="0.7"/>
<line x1="970.1" y1="763.8" x2="970.1" y2="778.3" stroke="#a8822a" stroke-width="0.7"/>
<line x1="967.4" y1="765.8" x2="967.4" y2="780.3" stroke="#a8822a" stroke-width="0.7"/>
<line x1="964.6" y1="767.7" x2="964.6" y2="782.2" stroke="#a8822a" stroke-width="0.7"/>
<line x1="961.9" y1="769.7" x2="961.9" y2="784.2" stroke="#a8822a" stroke-width="0.7"/>
<line x1="959.2" y1="771.6" x2="959.2" y2="786.1" stroke="#a8822a" stroke-width="0.7"/>
<line x1="956.5" y1="773.6" x2="956.5" y2="788.1" stroke="#a8822a" stroke-width="0.7"/>
<line x1="953.7" y1="775.5" x2="953.7" y2="790.0" stroke="#a8822a" stroke-width="0.7"/>
<polygon points="951.0,776.5 922.3,757.3 922.3,773.3 951.0,792.5" fill="#c9a24a" />
<line x1="948.4" y1="775.8" x2="948.4" y2="790.3" stroke="#a8822a" stroke-width="0.7"/>
<line x1="945.8" y1="774.0" x2="945.8" y2="788.5" stroke="#a8822a" stroke-width="0.7"/>
<line x1="943.2" y1="772.3" x2="943.2" y2="786.8" stroke="#a8822a" stroke-width="0.7"/>
<line x1="940.6" y1="770.5" x2="940.6" y2="785.0" stroke="#a8822a" stroke-width="0.7"/>
<line x1="938.0" y1="768.8" x2="938.0" y2="783.3" stroke="#a8822a" stroke-width="0.7"/>
<line x1="935.3" y1="767.0" x2="935.3" y2="781.5" stroke="#a8822a" stroke-width="0.7"/>
<line x1="932.7" y1="765.3" x2="932.7" y2="779.8" stroke="#a8822a" stroke-width="0.7"/>
<line x1="930.1" y1="763.5" x2="930.1" y2="778.0" stroke="#a8822a" stroke-width="0.7"/>
<line x1="927.5" y1="761.8" x2="927.5" y2="776.3" stroke="#a8822a" stroke-width="0.7"/>
<line x1="924.9" y1="760.0" x2="924.9" y2="774.5" stroke="#a8822a" stroke-width="0.7"/>
<polygon points="922.3,757.3 952.2,735.8 981.0,755.0 951.0,776.5" fill="#f9c90f" />
<polygon points="972.6,787.3 943.8,807.6 943.8,820.6 972.6,800.3" fill="#d8b45a" />
<line x1="970.0" y1="790.1" x2="970.0" y2="801.6" stroke="#a8822a" stroke-width="0.7"/>
<line x1="967.4" y1="792.0" x2="967.4" y2="803.5" stroke="#a8822a" stroke-width="0.7"/>
<line x1="964.7" y1="793.8" x2="964.7" y2="805.3" stroke="#a8822a" stroke-width="0.7"/>
<line x1="962.1" y1="795.7" x2="962.1" y2="807.2" stroke="#a8822a" stroke-width="0.7"/>
<line x1="959.5" y1="797.5" x2="959.5" y2="809.0" stroke="#a8822a" stroke-width="0.7"/>
<line x1="956.9" y1="799.4" x2="956.9" y2="810.9" stroke="#a8822a" stroke-width="0.7"/>
<line x1="954.3" y1="801.2" x2="954.3" y2="812.7" stroke="#a8822a" stroke-width="0.7"/>
<line x1="951.7" y1="803.1" x2="951.7" y2="814.6" stroke="#a8822a" stroke-width="0.7"/>
<line x1="949.0" y1="804.9" x2="949.0" y2="816.4" stroke="#a8822a" stroke-width="0.7"/>
<line x1="946.4" y1="806.8" x2="946.4" y2="818.3" stroke="#a8822a" stroke-width="0.7"/>
<polygon points="943.8,807.6 924.0,780.0 924.0,793.0 943.8,820.6" fill="#c9a24a" />
<line x1="941.0" y1="804.7" x2="941.0" y2="816.2" stroke="#a8822a" stroke-width="0.7"/>
<line x1="938.1" y1="800.7" x2="938.1" y2="812.2" stroke="#a8822a" stroke-width="0.7"/>
<line x1="935.3" y1="796.8" x2="935.3" y2="808.3" stroke="#a8822a" stroke-width="0.7"/>
<line x1="932.5" y1="792.8" x2="932.5" y2="804.3" stroke="#a8822a" stroke-width="0.7"/>
<line x1="929.7" y1="788.9" x2="929.7" y2="800.4" stroke="#a8822a" stroke-width="0.7"/>
<line x1="926.8" y1="784.9" x2="926.8" y2="796.4" stroke="#a8822a" stroke-width="0.7"/>
<polygon points="924.0,780.0 948.0,763.0 972.6,787.3 943.8,807.6" fill="#f9c90f" />
<polygon points="929.5,792.0 899.5,814.8 899.5,827.8 929.5,805.0" fill="#d8b45a" />
<line x1="926.8" y1="795.1" x2="926.8" y2="806.6" stroke="#a8822a" stroke-width="0.7"/>
<line x1="924.0" y1="797.1" x2="924.0" y2="808.6" stroke="#a8822a" stroke-width="0.7"/>
<line x1="921.3" y1="799.2" x2="921.3" y2="810.7" stroke="#a8822a" stroke-width="0.7"/>
<line x1="918.6" y1="801.3" x2="918.6" y2="812.8" stroke="#a8822a" stroke-width="0.7"/>
<line x1="915.9" y1="803.4" x2="915.9" y2="814.9" stroke="#a8822a" stroke-width="0.7"/>
<line x1="913.1" y1="805.4" x2="913.1" y2="816.9" stroke="#a8822a" stroke-width="0.7"/>
<line x1="910.4" y1="807.5" x2="910.4" y2="819.0" stroke="#a8822a" stroke-width="0.7"/>
<line x1="907.7" y1="809.6" x2="907.7" y2="821.1" stroke="#a8822a" stroke-width="0.7"/>
<line x1="905.0" y1="811.7" x2="905.0" y2="823.2" stroke="#a8822a" stroke-width="0.7"/>
<line x1="902.2" y1="813.7" x2="902.2" y2="825.2" stroke="#a8822a" stroke-width="0.7"/>
<polygon points="899.5,814.8 872.0,794.5 872.0,807.5 899.5,827.8" fill="#c9a24a" />
<line x1="896.8" y1="813.8" x2="896.8" y2="825.3" stroke="#a8822a" stroke-width="0.7"/>
<line x1="894.0" y1="811.7" x2="894.0" y2="823.2" stroke="#a8822a" stroke-width="0.7"/>
<line x1="891.2" y1="809.7" x2="891.2" y2="821.2" stroke="#a8822a" stroke-width="0.7"/>
<line x1="888.5" y1="807.7" x2="888.5" y2="819.2" stroke="#a8822a" stroke-width="0.7"/>
<line x1="885.8" y1="805.6" x2="885.8" y2="817.1" stroke="#a8822a" stroke-width="0.7"/>
<line x1="883.0" y1="803.6" x2="883.0" y2="815.1" stroke="#a8822a" stroke-width="0.7"/>
<line x1="880.2" y1="801.6" x2="880.2" y2="813.1" stroke="#a8822a" stroke-width="0.7"/>
<line x1="877.5" y1="799.6" x2="877.5" y2="811.1" stroke="#a8822a" stroke-width="0.7"/>
<line x1="874.8" y1="797.5" x2="874.8" y2="809.0" stroke="#a8822a" stroke-width="0.7"/>
<polygon points="872.0,794.5 902.0,773.0 929.5,792.0 899.5,814.8" fill="#f9c90f" />
<polygon points="938.0,756.0 947.0,749.5 956.0,756.0 947.0,762.5" fill="#b5a27c" />
<polygon points="938.0,756.0 947.0,749.5 947.0,756.0" fill="#d8ccb0" />
<polygon points="892.0,789.5 901.5,782.5 911.0,789.5 901.5,796.5" fill="#b5a27c" />
<polygon points="892.0,789.5 901.5,782.5 901.5,789.5" fill="#d8ccb0" />
<polyline points="945.0,807.6 945.0,820.1" fill="none" stroke="#c49a3a" stroke-width="0.6" stroke-linejoin="round" stroke-linecap="butt" />
<polyline points="947.8,805.6 947.8,818.1" fill="none" stroke="#c49a3a" stroke-width="0.6" stroke-linejoin="round" stroke-linecap="butt" />
<polyline points="950.6,803.6 950.6,816.1" fill="none" stroke="#c49a3a" stroke-width="0.6" stroke-linejoin="round" stroke-linecap="butt" />
<polyline points="953.4,801.6 953.4,814.1" fill="none" stroke="#c49a3a" stroke-width="0.6" stroke-linejoin="round" stroke-linecap="butt" />
<polyline points="956.2,799.6 956.2,812.1" fill="none" stroke="#c49a3a" stroke-width="0.6" stroke-linejoin="round" stroke-linecap="butt" />
<polyline points="959.0,797.6 959.0,810.1" fill="none" stroke="#c49a3a" stroke-width="0.6" stroke-linejoin="round" stroke-linecap="butt" />
<polyline points="961.8,795.5 961.8,808.0" fill="none" stroke="#c49a3a" stroke-width="0.6" stroke-linejoin="round" stroke-linecap="butt" />
<polyline points="964.6,793.5 964.6,806.0" fill="none" stroke="#c49a3a" stroke-width="0.6" stroke-linejoin="round" stroke-linecap="butt" />
<polyline points="967.4,791.5 967.4,804.0" fill="none" stroke="#c49a3a" stroke-width="0.6" stroke-linejoin="round" stroke-linecap="butt" />
<polyline points="970.2,789.5 970.2,802.0" fill="none" stroke="#c49a3a" stroke-width="0.6" stroke-linejoin="round" stroke-linecap="butt" />
<circle cx="872" cy="635" r="7" fill="none" stroke="#111" stroke-width="1.6"/>
<text x="872" y="639.5" font-size="11" fill="#111" font-weight="bold" text-anchor="middle" >H</text>
<text x="837" y="633" font-size="12.5" fill="#111" font-weight="bold" text-anchor="start" transform="rotate(34.6 837 633)" >Bus 353</text>
<polyline points="879.0,643.0 883.0,639.0" fill="none" stroke="#1b8de6" stroke-width="2.5" stroke-linejoin="round" stroke-linecap="butt" />
<text x="0" y="0" font-size="100" fill="#ffffff" transform="matrix(0.636,0.40,-0.606,0.443,1014,766)">C</text>
<text x="0" y="0" font-size="100" fill="#ffffff" transform="matrix(0.636,0.40,-0.606,0.443,890,856)">D</text>
<polygon points="614.2,709.0 635.0,696.0 653.6,709.0 632.8,724.4" fill="#ffffff" stroke="#222" stroke-width="1.3"/>
<text x="0" y="0" font-size="100" fill="#111" stroke="#111" stroke-width="4" transform="matrix(0.20,0.063,-0.176,0.127,622.2,710.75)">P</text>
<text x="0" y="0" font-size="16" fill="#1a1a1a" font-weight="normal" textLength="167" lengthAdjust="spacingAndGlyphs" transform="translate(610.7 266.6) rotate(-3.6)" >Lindenberger Weg</text>
<text x="0" y="0" font-size="11.5" fill="#444" font-weight="normal" textLength="48" lengthAdjust="spacingAndGlyphs" transform="translate(531.6 274) rotate(-5)" >Bus 353</text>
<circle cx="590.7" cy="264.5" r="8" fill="none" stroke="#333" stroke-width="1.2"/>
<text x="0" y="0" font-size="11" fill="#333" font-weight="normal" transform="translate(586 269) rotate(-5)" >H</text>
<circle cx="462.2" cy="276.6" r="9" fill="#111"/>
<text x="0" y="0" font-size="13" fill="#fff" font-weight="bold" transform="translate(457.5 281.5) rotate(-20)" >S</text>
<text x="0" y="0" font-size="12" fill="#333" font-weight="normal" textLength="22" lengthAdjust="spacingAndGlyphs" transform="translate(427.8 296) rotate(-25)" >City</text>
<polyline points="423.9,295.3 405.0,303.5" fill="none" stroke="#222" stroke-width="1.3" stroke-linejoin="round" stroke-linecap="butt" />
<polygon points="402.8,304.7 409.0,299.0 410.0,304.0" fill="#222" />
<polyline points="359.0,310.5 392.0,296.5" fill="none" stroke="#000" stroke-width="3.2" stroke-linejoin="round" stroke-linecap="butt" />
<polyline points="383.0,292.0 394.5,295.5 388.0,305.0" fill="none" stroke="#000" stroke-width="3.2" stroke-linejoin="round" stroke-linecap="butt" stroke-linecap="round"/>
<text x="0" y="0" font-size="12.4" fill="#c0001c" font-weight="normal" textLength="228" lengthAdjust="spacingAndGlyphs" transform="translate(150 408) rotate(-24.6)" >Bus 353, vom S-Buch zum Campus Buch</text>
<circle cx="361.3" cy="776" r="9" fill="#fff" stroke="#222" stroke-width="1.2"/>
<text x="0" y="0" font-size="12" fill="#222" font-weight="normal" transform="translate(357 781) rotate(20)" >H</text>
<text x="0" y="0" font-size="11" fill="#222" font-weight="normal" textLength="22" lengthAdjust="spacingAndGlyphs" transform="translate(373 783) rotate(22)" >Bus</text>
<text x="0" y="0" font-size="11" fill="#222" font-weight="normal" textLength="20" lengthAdjust="spacingAndGlyphs" transform="translate(399 786) rotate(22)" >150</text>
<text x="0" y="0" font-size="11" fill="#222" font-weight="normal" textLength="20" lengthAdjust="spacingAndGlyphs" transform="translate(394 797) rotate(22)" >158</text>
<text x="0" y="0" font-size="16" fill="#111" textLength="160" lengthAdjust="spacingAndGlyphs" transform="translate(431.3 812.6) rotate(23.9) skewX(-10)">Karower Chaussee</text>
<text x="0" y="0" font-size="11" fill="#333" font-weight="normal" textLength="119" lengthAdjust="spacingAndGlyphs" transform="translate(468 787) rotate(-36)" >Robert-Rössle-Strasse</text>
<polyline points="367.0,822.0 350.0,816.0" fill="none" stroke="#111" stroke-width="1.5" stroke-linejoin="round" stroke-linecap="butt" />
<polygon points="345.0,814.5 352.0,811.5 351.0,818.5" fill="#111" />
<text x="0" y="0" font-size="11" fill="#222" font-weight="normal" textLength="20" lengthAdjust="spacingAndGlyphs" transform="translate(371 826) rotate(22)" >City</text>
<circle cx="403.5" cy="839.4" r="9" fill="#111"/>
<text x="0" y="0" font-size="13" fill="#fff" font-weight="bold" transform="translate(398.8 844.5) rotate(15)" >S</text>
<text x="0" y="0" font-size="11" fill="#222" font-weight="normal" textLength="20" lengthAdjust="spacingAndGlyphs" transform="translate(472.6 872) rotate(25)" >City</text>
<polyline points="494.0,880.5 510.0,889.5" fill="none" stroke="#111" stroke-width="1.5" stroke-linejoin="round" stroke-linecap="butt" />
<polygon points="515.0,892.0 507.0,892.5 510.0,886.0" fill="#111" />
<text x="0" y="0" font-size="100" fill="#ffffff" stroke="#ffffff" stroke-width="5" transform="matrix(0.27,0.027,-0.175,0.137,985.8,488.8)">P</text>
<text x="0" y="0" font-size="100" fill="#ffffff" stroke="#ffffff" stroke-width="5" transform="matrix(0.27,0.027,-0.175,0.137,850.8,455.4)">P</text>
<text x="0" y="0" font-size="100" fill="#ffffff" stroke="#ffffff" stroke-width="5" transform="matrix(0.27,0.027,-0.175,0.137,1028.8,693.8)">P</text>
<text x="0" y="0" font-size="100" fill="#ffffff" stroke="#ffffff" stroke-width="5" transform="matrix(0.27,0.027,-0.175,0.137,963.8,742.8)">P</text>
<text x="0" y="0" font-size="100" fill="#ffffff" stroke="#ffffff" stroke-width="5" transform="matrix(0.27,0.016,-0.157,0.17,473,601.6)">P</text>
<text x="0" y="0" font-size="13.5" fill="#0d2d5e" text-anchor="middle" transform="translate(467.5 329.5) rotate(0) scale(1.18 1)">63</text>
<text x="0" y="0" font-size="13.5" fill="#0d2d5e" text-anchor="middle" transform="translate(513.75 364.5) rotate(-15) scale(1.18 1)">88</text>
<text x="0" y="0" font-size="13.5" fill="#0d2d5e" text-anchor="middle" transform="translate(560 311.5) rotate(0) scale(1.18 1)">89</text>
<text x="0" y="0" font-size="13.5" fill="#1c1c1c" text-anchor="middle" transform="translate(616 299.5) rotate(0) scale(1.18 1)">58</text>
<text x="0" y="0" font-size="13.5" fill="#1c1c1c" text-anchor="middle" transform="translate(594 388.5) rotate(0) scale(1.18 1)">60</text>
<text x="0" y="0" font-size="13.5" fill="#1c1c1c" text-anchor="middle" transform="translate(525 410.5) rotate(0) scale(1.18 1)">66.1</text>
<text x="0" y="0" font-size="13.5" fill="#1c1c1c" text-anchor="middle" transform="translate(666 295.5) rotate(0) scale(1.18 1)">53</text>
<text x="0" y="0" font-size="13.5" fill="#1c1c1c" text-anchor="middle" transform="translate(706 295.5) rotate(0) scale(1.18 1)">46</text>
<text x="0" y="0" font-size="13.5" fill="#1c1c1c" text-anchor="middle" transform="translate(772.5 282.0) rotate(0) scale(1.18 1)">51</text>
<text x="0" y="0" font-size="13.5" fill="#1c1c1c" text-anchor="middle" transform="translate(806 282.0) rotate(0) scale(1.18 1)">52</text>
<text x="0" y="0" font-size="13.5" fill="#1c1c1c" text-anchor="middle" transform="translate(752.5 319.5) rotate(0) scale(1.18 1)">47</text>
<text x="0" y="0" font-size="13.5" fill="#1c1c1c" text-anchor="middle" transform="translate(820 324.5) rotate(0) scale(1.18 1)">50</text>
<text x="0" y="0" font-size="13.5" fill="#1c1c1c" text-anchor="middle" transform="translate(791 344.5) rotate(0) scale(1.18 1)">48</text>
<text x="0" y="0" font-size="13.5" fill="#1c1c1c" text-anchor="middle" transform="translate(641 335.5) rotate(0) scale(1.18 1)">55</text>
<text x="0" y="0" font-size="13.5" fill="#1c1c1c" text-anchor="middle" transform="translate(717.5 411.5) rotate(0) scale(1.18 1)">54</text>
<text x="0" y="0" font-size="13.5" fill="#1c1c1c" text-anchor="middle" transform="translate(630 443.5) rotate(5) scale(1.18 1)">61</text>
<text x="0" y="0" font-size="13.5" fill="#1c1c1c" text-anchor="middle" transform="translate(757 437.5) rotate(35) scale(1.18 1)">42</text>
<text x="0" y="0" font-size="13.5" fill="#0d2d5e" text-anchor="middle" transform="translate(920 461.5) rotate(30) scale(1.18 1)">87</text>
<text x="0" y="0" font-size="13.5" fill="#0d2d5e" text-anchor="middle" transform="translate(810 546.5) rotate(30) scale(1.18 1)">27</text>
<text x="0" y="0" font-size="13.5" fill="#0d2d5e" text-anchor="middle" transform="translate(917 570.5) rotate(35) scale(1.18 1)">84.1</text>
<text x="0" y="0" font-size="13.5" fill="#0d2d5e" text-anchor="middle" transform="translate(893 596.5) rotate(35) scale(1.18 1)">84</text>
<text x="0" y="0" font-size="13.5" fill="#0d2d5e" text-anchor="middle" transform="translate(780 584.5) rotate(35) scale(1.18 1)">24</text>
<text x="0" y="0" font-size="13.5" fill="#1c1c1c" text-anchor="middle" transform="translate(770 639.5) rotate(30) scale(1.18 1)">23</text>
<text x="0" y="0" font-size="13.5" fill="#0d2d5e" text-anchor="middle" transform="translate(1010 534.5) rotate(30) scale(1.18 1)">81</text>
<text x="0" y="0" font-size="13.5" fill="#0d2d5e" text-anchor="middle" transform="translate(1092.5 556.5) rotate(30) scale(1.18 1)">31.4</text>
<text x="0" y="0" font-size="13.5" fill="#0d2d5e" text-anchor="middle" transform="translate(1052.5 601.5) rotate(35) scale(1.18 1)">31.3</text>
<text x="0" y="0" font-size="13.5" fill="#0d2d5e" text-anchor="middle" transform="translate(1122.5 620.5) rotate(30) scale(1.18 1)">71</text>
<text x="0" y="0" font-size="13.5" fill="#1c1c1c" text-anchor="middle" transform="translate(700 651.5) rotate(30) scale(1.18 1)">16</text>
<text x="0" y="0" font-size="13.5" fill="#1c1c1c" text-anchor="middle" transform="translate(725 666.5) rotate(30) scale(1.18 1)">82</text>
<text x="0" y="0" font-size="13.5" fill="#1c1c1c" text-anchor="middle" transform="translate(762.5 704.5) rotate(30) scale(1.18 1)">80</text>
<text x="0" y="0" font-size="13.5" fill="#1c1c1c" text-anchor="middle" transform="translate(825 660.5) rotate(30) scale(1.18 1)">79</text>
<text x="0" y="0" font-size="13.5" fill="#1c1c1c" text-anchor="middle" transform="translate(886 719.5) rotate(30) scale(1.18 1)">72</text>
<text x="0" y="0" font-size="13.5" fill="#1c1c1c" text-anchor="middle" transform="translate(939.6 785.5) rotate(30) scale(1.18 1)">85</text>
<text x="0" y="0" font-size="13.5" fill="#1c1c1c" text-anchor="middle" transform="translate(572.5 509.5) rotate(30) scale(1.18 1)">15</text>
<text x="0" y="0" font-size="13.5" fill="#1c1c1c" text-anchor="middle" transform="translate(620 531.5) rotate(35) scale(1.18 1)">14</text>
<text x="0" y="0" font-size="13.5" fill="#0d2d5e" text-anchor="middle" transform="translate(547.5 539.5) rotate(30) scale(1.18 1)">12</text>
<text x="0" y="0" font-size="13.5" fill="#1c1c1c" text-anchor="middle" transform="translate(660 584.5) rotate(40) scale(1.18 1)">13</text>
<text x="0" y="0" font-size="13.5" fill="#0d2d5e" text-anchor="middle" transform="translate(572.5 610.5) rotate(25) scale(1.18 1)">10</text>
<text x="0" y="0" font-size="13.5" fill="#1c1c1c" text-anchor="middle" transform="translate(631 640.5) rotate(30) scale(1.18 1)">8</text>
<text x="0" y="0" font-size="13.5" fill="#0d2d5e" text-anchor="middle" transform="translate(957.5 636.5) rotate(55) scale(1.18 1)">31.1</text>
<text x="0" y="0" font-size="13.5" fill="#0d2d5e" text-anchor="middle" transform="translate(990 671.5) rotate(55) scale(1.18 1)">31.2</text>
<text x="0" y="0" font-size="13.5" fill="#1c1c1c" text-anchor="middle" transform="translate(1042.5 461.5) rotate(30) scale(1.18 1)">81.2</text>
<text x="0" y="0" font-size="13.5" fill="#1c1c1c" text-anchor="middle" transform="translate(1092.5 469.5) rotate(30) scale(1.18 1)">81.1</text>
<text x="0" y="0" font-size="12" fill="#1c1c1c" text-anchor="middle" transform="translate(460 371) rotate(95)">64</text>
<text x="0" y="0" font-size="11.5" fill="#1c1c1c" text-anchor="middle" transform="translate(772 379) rotate(60)">49</text>
<text x="0" y="0" font-size="11.5" fill="#1c1c1c" text-anchor="middle" transform="translate(817 414) rotate(35)">49.1</text>
<text x="0" y="0" font-size="11" fill="#1c1c1c" text-anchor="middle" transform="translate(853 541) rotate(70)">83</text>
<text x="0" y="0" font-size="11" fill="#1c1c1c" text-anchor="middle" transform="translate(584 674) rotate(-70)">9</text>
<polyline points="505.6,230.0 506.9,300.0" fill="none" stroke="#f01010" stroke-width="3" stroke-linejoin="round" stroke-linecap="butt" />
<polyline points="499.5,289.0 506.9,302.0 514.4,289.0" fill="none" stroke="#f01010" stroke-width="3.2" stroke-linejoin="round" stroke-linecap="butt" stroke-linecap="round"/>
<circle cx="509.4" cy="323.75" r="16.2" fill="none" stroke="#c4504c" stroke-width="3.2"/>
<text x="509.6" y="330.5" font-size="18" font-weight="bold" fill="#e01e1e" text-anchor="middle">H</text>
<polyline points="422.8,455.5 569.0,345.5" fill="none" stroke="#0c0c82" stroke-width="3.2" stroke-linejoin="round" stroke-linecap="butt" />
<polyline points="555.5,346.1 571.0,343.7 564.4,357.0" fill="none" stroke="#0c0c82" stroke-width="3.4" stroke-linejoin="round" stroke-linecap="butt" stroke-linecap="round"/>
</svg>
<div class="title"><span>MDC Campus Karte</span></div>
<div class="rbox"><div style="top:9px">Erste Haltestelle auf dem Campus Buch</div><div style="top:34.5px">„Klinikum Buch/Südeingang“,</div><div style="top:59.5px">Bus 353</div></div>
<div class="bbox"><div style="top:8.5px">Die AG Treier hat Ihre Räume im</div><div style="top:35px;font-weight:bold;font-size:18.5px;">Max-Rubner Haus, Gebäude 89,</div><div style="top:60px">2te Etage</div></div>
</body></html>
